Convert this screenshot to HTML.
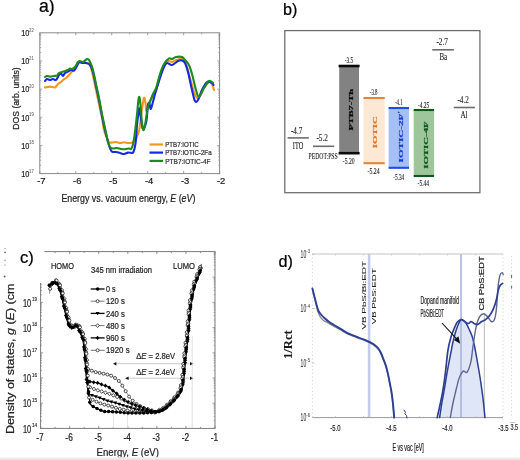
<!DOCTYPE html>
<html><head><meta charset="utf-8"><style>
html,body{margin:0;padding:0;background:#fff;}
body{width:520px;height:460px;overflow:hidden;}
svg{display:block;filter:blur(0.35px);}
.s{font-family:"Liberation Sans",Arial,sans-serif;}
.r{font-family:"Liberation Serif","Times New Roman",serif;}
</style></head><body>
<svg width="520" height="460" viewBox="0 0 520 460">
<rect x="0" y="0" width="520" height="460" fill="#fff"/>
<text class="s" x="38.9" y="12.3" font-size="17.6" fill="#000" stroke="#000" stroke-width="0.22">a)</text>
<rect x="39.8" y="32.8" width="179.8" height="140.8" fill="none" stroke="#8a8a8a" stroke-width="1"/>
<line x1="39.8" y1="173.6" x2="39.8" y2="171.1" stroke="#8a8a8a" stroke-width="0.8" />
<line x1="39.8" y1="32.8" x2="39.8" y2="35.3" stroke="#8a8a8a" stroke-width="0.8" />
<line x1="57.78" y1="173.6" x2="57.78" y2="172.1" stroke="#8a8a8a" stroke-width="0.8" />
<line x1="57.78" y1="32.8" x2="57.78" y2="34.3" stroke="#8a8a8a" stroke-width="0.8" />
<line x1="75.76" y1="173.6" x2="75.76" y2="171.1" stroke="#8a8a8a" stroke-width="0.8" />
<line x1="75.76" y1="32.8" x2="75.76" y2="35.3" stroke="#8a8a8a" stroke-width="0.8" />
<line x1="93.74" y1="173.6" x2="93.74" y2="172.1" stroke="#8a8a8a" stroke-width="0.8" />
<line x1="93.74" y1="32.8" x2="93.74" y2="34.3" stroke="#8a8a8a" stroke-width="0.8" />
<line x1="111.72" y1="173.6" x2="111.72" y2="171.1" stroke="#8a8a8a" stroke-width="0.8" />
<line x1="111.72" y1="32.8" x2="111.72" y2="35.3" stroke="#8a8a8a" stroke-width="0.8" />
<line x1="129.7" y1="173.6" x2="129.7" y2="172.1" stroke="#8a8a8a" stroke-width="0.8" />
<line x1="129.7" y1="32.8" x2="129.7" y2="34.3" stroke="#8a8a8a" stroke-width="0.8" />
<line x1="147.68" y1="173.6" x2="147.68" y2="171.1" stroke="#8a8a8a" stroke-width="0.8" />
<line x1="147.68" y1="32.8" x2="147.68" y2="35.3" stroke="#8a8a8a" stroke-width="0.8" />
<line x1="165.66" y1="173.6" x2="165.66" y2="172.1" stroke="#8a8a8a" stroke-width="0.8" />
<line x1="165.66" y1="32.8" x2="165.66" y2="34.3" stroke="#8a8a8a" stroke-width="0.8" />
<line x1="183.64" y1="173.6" x2="183.64" y2="171.1" stroke="#8a8a8a" stroke-width="0.8" />
<line x1="183.64" y1="32.8" x2="183.64" y2="35.3" stroke="#8a8a8a" stroke-width="0.8" />
<line x1="201.62" y1="173.6" x2="201.62" y2="172.1" stroke="#8a8a8a" stroke-width="0.8" />
<line x1="201.62" y1="32.8" x2="201.62" y2="34.3" stroke="#8a8a8a" stroke-width="0.8" />
<line x1="219.6" y1="173.6" x2="219.6" y2="171.1" stroke="#8a8a8a" stroke-width="0.8" />
<line x1="219.6" y1="32.8" x2="219.6" y2="35.3" stroke="#8a8a8a" stroke-width="0.8" />
<text class="s" x="41.3" y="184.2" font-size="9.4" fill="#222" stroke="#222" stroke-width="0.22" text-anchor="middle">-7</text>
<text class="s" x="77.25999999999999" y="184.2" font-size="9.4" fill="#222" stroke="#222" stroke-width="0.22" text-anchor="middle">-6</text>
<text class="s" x="113.22" y="184.2" font-size="9.4" fill="#222" stroke="#222" stroke-width="0.22" text-anchor="middle">-5</text>
<text class="s" x="149.18" y="184.2" font-size="9.4" fill="#222" stroke="#222" stroke-width="0.22" text-anchor="middle">-4</text>
<text class="s" x="185.14" y="184.2" font-size="9.4" fill="#222" stroke="#222" stroke-width="0.22" text-anchor="middle">-3</text>
<text class="s" x="221.10000000000002" y="184.2" font-size="9.4" fill="#222" stroke="#222" stroke-width="0.22" text-anchor="middle">-2</text>
<line x1="39.8" y1="173.6" x2="42.3" y2="173.6" stroke="#8a8a8a" stroke-width="0.7" />
<line x1="219.6" y1="173.6" x2="217.1" y2="173.6" stroke="#8a8a8a" stroke-width="0.7" />
<line x1="39.8" y1="165.12" x2="41.2" y2="165.12" stroke="#8a8a8a" stroke-width="0.7" />
<line x1="219.6" y1="165.12" x2="218.2" y2="165.12" stroke="#8a8a8a" stroke-width="0.7" />
<line x1="39.8" y1="160.16" x2="41.2" y2="160.16" stroke="#8a8a8a" stroke-width="0.7" />
<line x1="219.6" y1="160.16" x2="218.2" y2="160.16" stroke="#8a8a8a" stroke-width="0.7" />
<line x1="39.8" y1="156.65" x2="41.2" y2="156.65" stroke="#8a8a8a" stroke-width="0.7" />
<line x1="219.6" y1="156.65" x2="218.2" y2="156.65" stroke="#8a8a8a" stroke-width="0.7" />
<line x1="39.8" y1="153.92" x2="41.2" y2="153.92" stroke="#8a8a8a" stroke-width="0.7" />
<line x1="219.6" y1="153.92" x2="218.2" y2="153.92" stroke="#8a8a8a" stroke-width="0.7" />
<line x1="39.8" y1="151.69" x2="41.2" y2="151.69" stroke="#8a8a8a" stroke-width="0.7" />
<line x1="219.6" y1="151.69" x2="218.2" y2="151.69" stroke="#8a8a8a" stroke-width="0.7" />
<line x1="39.8" y1="149.8" x2="41.2" y2="149.8" stroke="#8a8a8a" stroke-width="0.7" />
<line x1="219.6" y1="149.8" x2="218.2" y2="149.8" stroke="#8a8a8a" stroke-width="0.7" />
<line x1="39.8" y1="148.17" x2="41.2" y2="148.17" stroke="#8a8a8a" stroke-width="0.7" />
<line x1="219.6" y1="148.17" x2="218.2" y2="148.17" stroke="#8a8a8a" stroke-width="0.7" />
<line x1="39.8" y1="146.73" x2="41.2" y2="146.73" stroke="#8a8a8a" stroke-width="0.7" />
<line x1="219.6" y1="146.73" x2="218.2" y2="146.73" stroke="#8a8a8a" stroke-width="0.7" />
<line x1="39.8" y1="145.44" x2="42.3" y2="145.44" stroke="#8a8a8a" stroke-width="0.7" />
<line x1="219.6" y1="145.44" x2="217.1" y2="145.44" stroke="#8a8a8a" stroke-width="0.7" />
<line x1="39.8" y1="136.96" x2="41.2" y2="136.96" stroke="#8a8a8a" stroke-width="0.7" />
<line x1="219.6" y1="136.96" x2="218.2" y2="136.96" stroke="#8a8a8a" stroke-width="0.7" />
<line x1="39.8" y1="132" x2="41.2" y2="132" stroke="#8a8a8a" stroke-width="0.7" />
<line x1="219.6" y1="132" x2="218.2" y2="132" stroke="#8a8a8a" stroke-width="0.7" />
<line x1="39.8" y1="128.49" x2="41.2" y2="128.49" stroke="#8a8a8a" stroke-width="0.7" />
<line x1="219.6" y1="128.49" x2="218.2" y2="128.49" stroke="#8a8a8a" stroke-width="0.7" />
<line x1="39.8" y1="125.76" x2="41.2" y2="125.76" stroke="#8a8a8a" stroke-width="0.7" />
<line x1="219.6" y1="125.76" x2="218.2" y2="125.76" stroke="#8a8a8a" stroke-width="0.7" />
<line x1="39.8" y1="123.53" x2="41.2" y2="123.53" stroke="#8a8a8a" stroke-width="0.7" />
<line x1="219.6" y1="123.53" x2="218.2" y2="123.53" stroke="#8a8a8a" stroke-width="0.7" />
<line x1="39.8" y1="121.64" x2="41.2" y2="121.64" stroke="#8a8a8a" stroke-width="0.7" />
<line x1="219.6" y1="121.64" x2="218.2" y2="121.64" stroke="#8a8a8a" stroke-width="0.7" />
<line x1="39.8" y1="120.01" x2="41.2" y2="120.01" stroke="#8a8a8a" stroke-width="0.7" />
<line x1="219.6" y1="120.01" x2="218.2" y2="120.01" stroke="#8a8a8a" stroke-width="0.7" />
<line x1="39.8" y1="118.57" x2="41.2" y2="118.57" stroke="#8a8a8a" stroke-width="0.7" />
<line x1="219.6" y1="118.57" x2="218.2" y2="118.57" stroke="#8a8a8a" stroke-width="0.7" />
<line x1="39.8" y1="117.28" x2="42.3" y2="117.28" stroke="#8a8a8a" stroke-width="0.7" />
<line x1="219.6" y1="117.28" x2="217.1" y2="117.28" stroke="#8a8a8a" stroke-width="0.7" />
<line x1="39.8" y1="108.8" x2="41.2" y2="108.8" stroke="#8a8a8a" stroke-width="0.7" />
<line x1="219.6" y1="108.8" x2="218.2" y2="108.8" stroke="#8a8a8a" stroke-width="0.7" />
<line x1="39.8" y1="103.84" x2="41.2" y2="103.84" stroke="#8a8a8a" stroke-width="0.7" />
<line x1="219.6" y1="103.84" x2="218.2" y2="103.84" stroke="#8a8a8a" stroke-width="0.7" />
<line x1="39.8" y1="100.33" x2="41.2" y2="100.33" stroke="#8a8a8a" stroke-width="0.7" />
<line x1="219.6" y1="100.33" x2="218.2" y2="100.33" stroke="#8a8a8a" stroke-width="0.7" />
<line x1="39.8" y1="97.6" x2="41.2" y2="97.6" stroke="#8a8a8a" stroke-width="0.7" />
<line x1="219.6" y1="97.6" x2="218.2" y2="97.6" stroke="#8a8a8a" stroke-width="0.7" />
<line x1="39.8" y1="95.37" x2="41.2" y2="95.37" stroke="#8a8a8a" stroke-width="0.7" />
<line x1="219.6" y1="95.37" x2="218.2" y2="95.37" stroke="#8a8a8a" stroke-width="0.7" />
<line x1="39.8" y1="93.48" x2="41.2" y2="93.48" stroke="#8a8a8a" stroke-width="0.7" />
<line x1="219.6" y1="93.48" x2="218.2" y2="93.48" stroke="#8a8a8a" stroke-width="0.7" />
<line x1="39.8" y1="91.85" x2="41.2" y2="91.85" stroke="#8a8a8a" stroke-width="0.7" />
<line x1="219.6" y1="91.85" x2="218.2" y2="91.85" stroke="#8a8a8a" stroke-width="0.7" />
<line x1="39.8" y1="90.41" x2="41.2" y2="90.41" stroke="#8a8a8a" stroke-width="0.7" />
<line x1="219.6" y1="90.41" x2="218.2" y2="90.41" stroke="#8a8a8a" stroke-width="0.7" />
<line x1="39.8" y1="89.12" x2="42.3" y2="89.12" stroke="#8a8a8a" stroke-width="0.7" />
<line x1="219.6" y1="89.12" x2="217.1" y2="89.12" stroke="#8a8a8a" stroke-width="0.7" />
<line x1="39.8" y1="80.64" x2="41.2" y2="80.64" stroke="#8a8a8a" stroke-width="0.7" />
<line x1="219.6" y1="80.64" x2="218.2" y2="80.64" stroke="#8a8a8a" stroke-width="0.7" />
<line x1="39.8" y1="75.68" x2="41.2" y2="75.68" stroke="#8a8a8a" stroke-width="0.7" />
<line x1="219.6" y1="75.68" x2="218.2" y2="75.68" stroke="#8a8a8a" stroke-width="0.7" />
<line x1="39.8" y1="72.17" x2="41.2" y2="72.17" stroke="#8a8a8a" stroke-width="0.7" />
<line x1="219.6" y1="72.17" x2="218.2" y2="72.17" stroke="#8a8a8a" stroke-width="0.7" />
<line x1="39.8" y1="69.44" x2="41.2" y2="69.44" stroke="#8a8a8a" stroke-width="0.7" />
<line x1="219.6" y1="69.44" x2="218.2" y2="69.44" stroke="#8a8a8a" stroke-width="0.7" />
<line x1="39.8" y1="67.21" x2="41.2" y2="67.21" stroke="#8a8a8a" stroke-width="0.7" />
<line x1="219.6" y1="67.21" x2="218.2" y2="67.21" stroke="#8a8a8a" stroke-width="0.7" />
<line x1="39.8" y1="65.32" x2="41.2" y2="65.32" stroke="#8a8a8a" stroke-width="0.7" />
<line x1="219.6" y1="65.32" x2="218.2" y2="65.32" stroke="#8a8a8a" stroke-width="0.7" />
<line x1="39.8" y1="63.69" x2="41.2" y2="63.69" stroke="#8a8a8a" stroke-width="0.7" />
<line x1="219.6" y1="63.69" x2="218.2" y2="63.69" stroke="#8a8a8a" stroke-width="0.7" />
<line x1="39.8" y1="62.25" x2="41.2" y2="62.25" stroke="#8a8a8a" stroke-width="0.7" />
<line x1="219.6" y1="62.25" x2="218.2" y2="62.25" stroke="#8a8a8a" stroke-width="0.7" />
<line x1="39.8" y1="60.96" x2="42.3" y2="60.96" stroke="#8a8a8a" stroke-width="0.7" />
<line x1="219.6" y1="60.96" x2="217.1" y2="60.96" stroke="#8a8a8a" stroke-width="0.7" />
<line x1="39.8" y1="52.48" x2="41.2" y2="52.48" stroke="#8a8a8a" stroke-width="0.7" />
<line x1="219.6" y1="52.48" x2="218.2" y2="52.48" stroke="#8a8a8a" stroke-width="0.7" />
<line x1="39.8" y1="47.52" x2="41.2" y2="47.52" stroke="#8a8a8a" stroke-width="0.7" />
<line x1="219.6" y1="47.52" x2="218.2" y2="47.52" stroke="#8a8a8a" stroke-width="0.7" />
<line x1="39.8" y1="44.01" x2="41.2" y2="44.01" stroke="#8a8a8a" stroke-width="0.7" />
<line x1="219.6" y1="44.01" x2="218.2" y2="44.01" stroke="#8a8a8a" stroke-width="0.7" />
<line x1="39.8" y1="41.28" x2="41.2" y2="41.28" stroke="#8a8a8a" stroke-width="0.7" />
<line x1="219.6" y1="41.28" x2="218.2" y2="41.28" stroke="#8a8a8a" stroke-width="0.7" />
<line x1="39.8" y1="39.05" x2="41.2" y2="39.05" stroke="#8a8a8a" stroke-width="0.7" />
<line x1="219.6" y1="39.05" x2="218.2" y2="39.05" stroke="#8a8a8a" stroke-width="0.7" />
<line x1="39.8" y1="37.16" x2="41.2" y2="37.16" stroke="#8a8a8a" stroke-width="0.7" />
<line x1="219.6" y1="37.16" x2="218.2" y2="37.16" stroke="#8a8a8a" stroke-width="0.7" />
<line x1="39.8" y1="35.53" x2="41.2" y2="35.53" stroke="#8a8a8a" stroke-width="0.7" />
<line x1="219.6" y1="35.53" x2="218.2" y2="35.53" stroke="#8a8a8a" stroke-width="0.7" />
<line x1="39.8" y1="34.09" x2="41.2" y2="34.09" stroke="#8a8a8a" stroke-width="0.7" />
<line x1="219.6" y1="34.09" x2="218.2" y2="34.09" stroke="#8a8a8a" stroke-width="0.7" />
<text class="s" x="21.2" y="176.9" font-size="9.0" fill="#222" stroke="#222" stroke-width="0.22" textLength="8.2" lengthAdjust="spacingAndGlyphs">10</text>
<text class="s" x="29.1" y="172.6" font-size="5.3" fill="#666" stroke="#666" stroke-width="0.08" textLength="4.6" lengthAdjust="spacingAndGlyphs">17</text>
<text class="s" x="21.2" y="148.74" font-size="9.0" fill="#222" stroke="#222" stroke-width="0.22" textLength="8.2" lengthAdjust="spacingAndGlyphs">10</text>
<text class="s" x="29.1" y="144.44" font-size="5.3" fill="#666" stroke="#666" stroke-width="0.08" textLength="4.6" lengthAdjust="spacingAndGlyphs">18</text>
<text class="s" x="21.2" y="120.58" font-size="9.0" fill="#222" stroke="#222" stroke-width="0.22" textLength="8.2" lengthAdjust="spacingAndGlyphs">10</text>
<text class="s" x="29.1" y="116.28" font-size="5.3" fill="#666" stroke="#666" stroke-width="0.08" textLength="4.6" lengthAdjust="spacingAndGlyphs">19</text>
<text class="s" x="21.2" y="92.41999999999999" font-size="9.0" fill="#222" stroke="#222" stroke-width="0.22" textLength="8.2" lengthAdjust="spacingAndGlyphs">10</text>
<text class="s" x="29.1" y="88.11999999999999" font-size="5.3" fill="#666" stroke="#666" stroke-width="0.08" textLength="4.6" lengthAdjust="spacingAndGlyphs">20</text>
<text class="s" x="21.2" y="64.25999999999999" font-size="9.0" fill="#222" stroke="#222" stroke-width="0.22" textLength="8.2" lengthAdjust="spacingAndGlyphs">10</text>
<text class="s" x="29.1" y="59.959999999999994" font-size="5.3" fill="#666" stroke="#666" stroke-width="0.08" textLength="4.6" lengthAdjust="spacingAndGlyphs">21</text>
<text class="s" x="21.2" y="36.09999999999998" font-size="9.0" fill="#222" stroke="#222" stroke-width="0.22" textLength="8.2" lengthAdjust="spacingAndGlyphs">10</text>
<text class="s" x="29.1" y="31.799999999999983" font-size="5.3" fill="#666" stroke="#666" stroke-width="0.08" textLength="4.6" lengthAdjust="spacingAndGlyphs">22</text>
<text class="s" x="19.2" y="98.5" font-size="8.9" fill="#222" stroke="#222" stroke-width="0.22" text-anchor="middle" textLength="62.3" lengthAdjust="spacingAndGlyphs" transform="rotate(-90 19.2 98.5)">DOS (arb. units)</text>
<text class="s" x="61.4" y="202.4" font-size="10.2" fill="#222" stroke="#222" stroke-width="0.22" textLength="134" lengthAdjust="spacingAndGlyphs">Energy vs. vacuum energy, <tspan font-style="italic">E</tspan> (<tspan font-style="italic">eV</tspan>)</text>
<path d="M45.0,87.4 C45.8,87.3 48.3,86.6 50.0,86.6 C51.7,86.6 53.7,87.8 55.0,87.4 C56.3,87.0 57.0,84.9 58.0,84.0 C59.0,83.1 60.2,82.7 61.0,82.0 C61.8,81.3 62.2,80.7 63.0,80.0 C63.8,79.3 64.8,79.0 66.0,78.0 C67.2,77.0 68.8,75.3 70.0,74.0 C71.2,72.7 72.0,71.3 73.0,70.0 C74.0,68.7 75.0,67.3 76.0,66.0 C77.0,64.7 77.8,62.6 79.0,62.0 C80.2,61.4 81.7,62.2 83.0,62.4 C84.3,62.6 85.8,63.1 87.0,63.4 C88.2,63.7 89.0,62.3 90.0,64.4 C91.0,66.5 92.0,71.7 93.0,76.0 C94.0,80.3 95.0,85.3 96.0,90.0 C97.0,94.7 98.0,99.3 99.0,104.0 C100.0,108.7 101.2,113.7 102.0,118.0 C102.8,122.3 103.2,126.7 104.0,130.0 C104.8,133.3 106.2,136.0 107.0,138.0 C107.8,140.0 108.2,141.2 109.0,142.0 C109.8,142.8 110.8,142.6 112.0,142.6 C113.2,142.6 114.7,141.9 116.0,142.0 C117.3,142.1 118.7,142.9 120.0,143.0 C121.3,143.1 122.7,142.3 124.0,142.3 C125.3,142.3 126.7,142.9 128.0,143.0 C129.3,143.1 130.8,143.1 131.8,142.8 C132.8,142.5 133.2,141.8 134.0,141.0 C134.8,140.2 135.5,140.0 136.4,138.0 C137.3,136.0 138.5,133.5 139.4,129.0 C140.3,124.5 140.9,116.2 141.7,111.0 C142.5,105.8 143.4,99.3 144.0,98.0 C144.6,96.7 145.1,100.7 145.5,103.0 C145.9,105.3 145.9,111.1 146.3,111.6 C146.7,112.1 147.3,107.4 147.8,106.0 C148.3,104.6 148.4,104.7 149.3,103.0 C150.2,101.3 151.9,97.6 153.0,95.6 C154.1,93.6 154.8,94.3 156.0,91.0 C157.2,87.7 158.7,80.2 160.0,76.0 C161.3,71.8 162.7,68.5 164.0,66.0 C165.3,63.5 166.7,61.7 168.0,61.0 C169.3,60.3 170.7,62.2 172.0,62.0 C173.3,61.8 174.3,60.5 176.0,60.0 C177.7,59.5 180.3,58.3 182.0,59.0 C183.7,59.7 184.7,60.8 186.0,64.0 C187.3,67.2 188.7,73.3 190.0,78.0 C191.3,82.7 192.8,88.7 194.0,92.0 C195.2,95.3 196.0,97.3 197.0,98.0 C198.0,98.7 198.8,97.7 200.0,96.0 C201.2,94.3 202.5,90.3 204.0,88.0 C205.5,85.7 207.7,82.7 209.0,82.0 C210.3,81.3 211.2,82.7 212.0,84.0 C212.8,85.3 213.7,89.0 214.0,90.0" fill="none" stroke="#f5961e" stroke-width="2.1" stroke-linejoin="round" stroke-linecap="round" />
<path d="M45.0,81.0 C45.3,80.7 46.2,79.2 47.0,79.0 C47.8,78.8 49.0,80.0 50.0,80.0 C51.0,80.0 52.0,79.0 53.0,79.0 C54.0,79.0 55.0,80.7 56.0,80.0 C57.0,79.3 58.2,76.1 59.0,75.0 C59.8,73.9 60.3,73.4 61.0,73.6 C61.7,73.8 62.3,76.1 63.0,76.0 C63.7,75.9 64.2,73.7 65.0,73.0 C65.8,72.3 67.0,72.1 68.0,71.6 C69.0,71.1 70.0,70.2 71.0,70.0 C72.0,69.8 73.0,71.3 74.0,70.6 C75.0,69.9 76.2,67.4 77.0,66.0 C77.8,64.6 78.2,62.9 79.0,62.4 C79.8,61.9 80.8,62.9 82.0,63.0 C83.2,63.1 84.7,62.7 86.0,63.0 C87.3,63.3 88.8,63.5 90.0,65.0 C91.2,66.5 92.0,68.5 93.0,72.0 C94.0,75.5 95.0,81.3 96.0,86.0 C97.0,90.7 98.0,95.0 99.0,100.0 C100.0,105.0 101.0,111.0 102.0,116.0 C103.0,121.0 104.0,125.7 105.0,130.0 C106.0,134.3 107.2,139.0 108.0,142.0 C108.8,145.0 109.3,146.4 110.0,148.0 C110.7,149.6 111.0,150.9 112.0,151.6 C113.0,152.3 114.7,151.8 116.0,152.0 C117.3,152.2 118.7,152.7 120.0,153.0 C121.3,153.3 122.7,154.1 124.0,154.0 C125.3,153.9 126.8,152.8 128.0,152.6 C129.2,152.4 130.1,152.9 131.0,152.8 C131.9,152.7 132.6,153.7 133.4,152.0 C134.2,150.3 135.0,147.3 135.6,142.8 C136.2,138.3 136.5,130.3 137.0,125.0 C137.5,119.7 138.3,113.7 138.7,111.0 C139.1,108.3 138.9,107.0 139.4,109.0 C139.9,111.0 141.1,119.7 141.7,123.0 C142.3,126.3 142.4,129.2 143.2,129.0 C144.0,128.8 145.5,125.3 146.3,121.5 C147.1,117.7 147.3,109.1 147.8,106.0 C148.3,102.9 148.8,102.5 149.3,103.0 C149.8,103.5 150.2,109.2 150.8,109.0 C151.4,108.8 152.2,104.4 153.0,101.7 C153.8,99.0 154.2,96.5 155.4,92.6 C156.6,88.6 158.6,82.3 160.0,78.0 C161.4,73.7 162.8,69.5 164.0,67.0 C165.2,64.5 165.7,63.3 167.0,63.0 C168.3,62.7 170.2,65.3 172.0,65.0 C173.8,64.7 176.3,61.8 178.0,61.0 C179.7,60.2 180.8,60.1 182.0,60.4 C183.2,60.7 184.0,61.1 185.0,63.0 C186.0,64.9 186.8,67.5 188.0,72.0 C189.2,76.5 190.8,85.2 192.0,90.0 C193.2,94.8 194.0,99.3 195.0,101.0 C196.0,102.7 196.8,101.8 198.0,100.0 C199.2,98.2 200.5,93.0 202.0,90.0 C203.5,87.0 205.3,83.2 207.0,82.0 C208.7,80.8 210.9,82.5 212.0,83.0 C213.1,83.5 213.2,84.7 213.5,85.0" fill="none" stroke="#1428e6" stroke-width="2.1" stroke-linejoin="round" stroke-linecap="round" />
<path d="M45.0,77.0 C45.3,76.8 46.2,76.1 47.0,76.0 C47.8,75.9 48.8,76.6 50.0,76.6 C51.2,76.6 52.8,76.2 54.0,76.0 C55.2,75.8 56.2,76.1 57.0,75.6 C57.8,75.1 58.2,73.6 59.0,73.0 C59.8,72.4 61.0,72.3 62.0,72.0 C63.0,71.7 64.0,71.3 65.0,71.0 C66.0,70.7 67.2,70.4 68.0,70.0 C68.8,69.6 69.3,68.8 70.0,68.6 C70.7,68.4 71.2,69.3 72.0,69.0 C72.8,68.7 74.0,68.2 75.0,67.0 C76.0,65.8 77.2,63.0 78.0,62.0 C78.8,61.0 79.2,61.0 80.0,61.0 C80.8,61.0 81.8,62.3 83.0,62.0 C84.2,61.7 86.0,59.3 87.0,59.0 C88.0,58.7 88.3,59.2 89.0,60.0 C89.7,60.8 90.3,62.3 91.0,64.0 C91.7,65.7 92.2,66.7 93.0,70.0 C93.8,73.3 95.0,79.3 96.0,84.0 C97.0,88.7 98.0,93.0 99.0,98.0 C100.0,103.0 101.0,109.0 102.0,114.0 C103.0,119.0 104.0,123.3 105.0,128.0 C106.0,132.7 107.2,138.8 108.0,142.0 C108.8,145.2 109.2,145.9 110.0,147.0 C110.8,148.1 111.8,148.3 113.0,148.5 C114.2,148.7 115.7,147.9 117.0,148.0 C118.3,148.1 119.7,148.8 121.0,149.0 C122.3,149.2 123.7,149.4 125.0,149.3 C126.3,149.2 128.0,148.6 129.0,148.5 C130.0,148.4 130.3,149.8 131.0,148.9 C131.7,148.0 132.5,147.6 133.4,142.8 C134.3,138.0 135.5,127.5 136.4,120.0 C137.3,112.5 138.1,101.0 138.7,98.0 C139.3,95.0 139.7,98.0 140.2,101.7 C140.7,105.4 141.2,115.3 141.7,120.0 C142.2,124.7 142.7,128.9 143.2,129.9 C143.7,130.9 144.0,129.7 144.8,126.0 C145.6,122.3 146.9,111.8 147.8,107.8 C148.7,103.8 149.1,104.0 150.0,101.7 C150.9,99.4 152.0,96.3 153.0,94.0 C154.0,91.7 154.8,91.3 156.0,88.0 C157.2,84.7 158.7,78.0 160.0,74.0 C161.3,70.0 162.5,66.6 164.0,64.0 C165.5,61.4 167.7,59.2 169.0,58.4 C170.3,57.6 170.8,59.2 172.0,59.0 C173.2,58.8 174.3,57.3 176.0,57.0 C177.7,56.7 180.5,56.5 182.0,57.0 C183.5,57.5 183.8,58.7 185.0,60.0 C186.2,61.3 187.8,62.7 189.0,65.0 C190.2,67.3 190.8,69.8 192.0,74.0 C193.2,78.2 194.8,86.2 196.0,90.0 C197.2,93.8 197.7,97.3 199.0,97.0 C200.3,96.7 202.3,90.7 204.0,88.0 C205.7,85.3 207.5,81.8 209.0,81.0 C210.5,80.2 212.3,82.7 213.0,83.0" fill="none" stroke="#1e8a1e" stroke-width="2.1" stroke-linejoin="round" stroke-linecap="round" />
<line x1="149.5" y1="144.5" x2="163" y2="144.5" stroke="#f5961e" stroke-width="2.2" />
<line x1="149.5" y1="152.6" x2="163" y2="152.6" stroke="#1428e6" stroke-width="2.2" />
<line x1="149.5" y1="160.9" x2="163" y2="160.9" stroke="#1e8a1e" stroke-width="2.2" />
<text class="s" x="165.2" y="147.2" font-size="7.2" fill="#333" stroke="#333" stroke-width="0.22" textLength="33.5" lengthAdjust="spacingAndGlyphs">PTB7:IOTIC</text>
<text class="s" x="165.2" y="155.3" font-size="7.2" fill="#333" stroke="#333" stroke-width="0.22" textLength="46.4" lengthAdjust="spacingAndGlyphs">PTB7:IOTIC-2Fa</text>
<text class="s" x="165.2" y="163.6" font-size="7.2" fill="#333" stroke="#333" stroke-width="0.22" textLength="45.4" lengthAdjust="spacingAndGlyphs">PTB7:IOTIC-4F</text>
<text class="s" x="283.0" y="15.3" font-size="16.2" fill="#000" stroke="#000" stroke-width="0.22">b)</text>
<rect x="284.8" y="30.6" width="195.1" height="162.1" fill="none" stroke="#6a6a6a" stroke-width="1.25"/>
<line x1="287.6" y1="137.9" x2="308.8" y2="137.9" stroke="#6c6c6c" stroke-width="1.6" />
<text class="r" x="291.0" y="134.3" font-size="9.5" fill="#222" stroke="#222" stroke-width="0.12" textLength="11.2" lengthAdjust="spacingAndGlyphs">-4.7</text>
<text class="r" x="292.8" y="149.0" font-size="9.5" fill="#222" stroke="#222" stroke-width="0.12" textLength="10.4" lengthAdjust="spacingAndGlyphs">ITO</text>
<line x1="313" y1="146.3" x2="334.2" y2="146.3" stroke="#6c6c6c" stroke-width="1.6" />
<text class="r" x="316.4" y="141.0" font-size="10.2" fill="#222" stroke="#222" stroke-width="0.12" textLength="11.6" lengthAdjust="spacingAndGlyphs">-5.2</text>
<text class="r" x="308.6" y="159.0" font-size="8.6" fill="#222" stroke="#222" stroke-width="0.12" textLength="29.0" lengthAdjust="spacingAndGlyphs">PEDOT:PSS</text>
<rect x="339.2" y="66" width="19.8" height="87.2" fill="#828282"/>
<line x1="338.6" y1="66" x2="359.6" y2="66" stroke="#0a0a0a" stroke-width="2.6" />
<line x1="338.6" y1="153.2" x2="359.6" y2="153.2" stroke="#0a0a0a" stroke-width="2.6" />
<text class="r" x="344.8" y="63.1" font-size="7.8" fill="#222" stroke="#222" stroke-width="0.12" textLength="8.4" lengthAdjust="spacingAndGlyphs">-3.5</text>
<text class="r" x="342.8" y="164.0" font-size="8.6" fill="#222" stroke="#222" stroke-width="0.12" textLength="11.8" lengthAdjust="spacingAndGlyphs">-5.20</text>
<text class="r" x="353.2" y="130.6" font-size="6.8" fill="#0a0a0a" stroke="#0a0a0a" stroke-width="0.22" textLength="41.6" lengthAdjust="spacingAndGlyphs" font-weight="bold" transform="rotate(-90 353.2 130.6)">PTB7-Th</text>
<rect x="363.5" y="98" width="21.2" height="65.2" fill="#fde8d6"/>
<line x1="363.5" y1="98" x2="384.7" y2="98" stroke="#e8833c" stroke-width="2.1" />
<line x1="363.5" y1="163.2" x2="384.7" y2="163.2" stroke="#e8833c" stroke-width="2.1" />
<text class="r" x="369.8" y="94.9" font-size="7.8" fill="#222" stroke="#222" stroke-width="0.12" textLength="7.6" lengthAdjust="spacingAndGlyphs">-3.8</text>
<text class="r" x="367.6" y="173.6" font-size="8.6" fill="#222" stroke="#222" stroke-width="0.12" textLength="12.0" lengthAdjust="spacingAndGlyphs">-5.24</text>
<text class="r" x="377.2" y="148.2" font-size="6.8" fill="#e27a2c" stroke="#e27a2c" stroke-width="0.22" textLength="32" lengthAdjust="spacingAndGlyphs" font-weight="bold" transform="rotate(-90 377.2 148.2)">IOTIC</text>
<rect x="388.6" y="108" width="20.4" height="59.8" fill="#a6c0f6"/>
<line x1="388.6" y1="108" x2="409" y2="108" stroke="#1d4fdc" stroke-width="2.1" />
<line x1="388.6" y1="167.8" x2="409" y2="167.8" stroke="#1d4fdc" stroke-width="2.1" />
<text class="r" x="395.0" y="104.9" font-size="7.8" fill="#222" stroke="#222" stroke-width="0.12" textLength="7.6" lengthAdjust="spacingAndGlyphs">-4.1</text>
<text class="r" x="393.2" y="179.9" font-size="8.6" fill="#222" stroke="#222" stroke-width="0.12" textLength="11.0" lengthAdjust="spacingAndGlyphs">-5.34</text>
<text class="r" x="402.8" y="162.4" font-size="6.8" fill="#1a3fd2" stroke="#1a3fd2" stroke-width="0.22" textLength="51.4" lengthAdjust="spacingAndGlyphs" font-weight="bold" transform="rotate(-90 402.8 162.4)">IOTIC-2F<tspan font-size="6" dy="-0.5">'</tspan></text>
<rect x="413.7" y="110" width="20.4" height="66" fill="#9ec59c"/>
<line x1="413.7" y1="110" x2="434.1" y2="110" stroke="#12561c" stroke-width="2.1" />
<line x1="413.7" y1="176" x2="434.1" y2="176" stroke="#12561c" stroke-width="2.1" />
<text class="r" x="418.0" y="108.0" font-size="8.0" fill="#222" stroke="#222" stroke-width="0.12" textLength="11.2" lengthAdjust="spacingAndGlyphs">-4.25</text>
<text class="r" x="417.6" y="185.7" font-size="8.6" fill="#222" stroke="#222" stroke-width="0.12" textLength="11.4" lengthAdjust="spacingAndGlyphs">-5.44</text>
<text class="r" x="427.6" y="168.8" font-size="6.8" fill="#0e5a1a" stroke="#0e5a1a" stroke-width="0.22" textLength="47.5" lengthAdjust="spacingAndGlyphs" font-weight="bold" transform="rotate(-90 427.6 168.8)">IOTIC-4F</text>
<line x1="432.2" y1="49.8" x2="453.9" y2="49.8" stroke="#6c6c6c" stroke-width="1.6" />
<text class="r" x="436.4" y="45.2" font-size="10.2" fill="#222" stroke="#222" stroke-width="0.12" textLength="11.4" lengthAdjust="spacingAndGlyphs">-2.7</text>
<text class="r" x="439.4" y="60.0" font-size="9.4" fill="#222" stroke="#222" stroke-width="0.12" textLength="7.8" lengthAdjust="spacingAndGlyphs">Ba</text>
<line x1="453.8" y1="107.5" x2="474.9" y2="107.5" stroke="#6c6c6c" stroke-width="1.6" />
<text class="r" x="457.4" y="102.9" font-size="10.2" fill="#222" stroke="#222" stroke-width="0.12" textLength="11.4" lengthAdjust="spacingAndGlyphs">-4.2</text>
<text class="r" x="460.4" y="118.2" font-size="9.4" fill="#222" stroke="#222" stroke-width="0.12" textLength="7.2" lengthAdjust="spacingAndGlyphs">Al</text>
<text class="s" x="20.0" y="263.2" font-size="16.5" fill="#000" stroke="#000" stroke-width="0.22">c)</text>
<rect x="40.6" y="251.6" width="174.4" height="176.79999999999998" fill="none" stroke="#7a7a7a" stroke-width="1"/>
<line x1="40.6" y1="428.4" x2="40.6" y2="425.9" stroke="#7a7a7a" stroke-width="0.8" />
<line x1="40.6" y1="251.6" x2="40.6" y2="254.1" stroke="#7a7a7a" stroke-width="0.8" />
<line x1="55.14" y1="428.4" x2="55.14" y2="426.9" stroke="#7a7a7a" stroke-width="0.8" />
<line x1="55.14" y1="251.6" x2="55.14" y2="253.1" stroke="#7a7a7a" stroke-width="0.8" />
<line x1="69.67" y1="428.4" x2="69.67" y2="425.9" stroke="#7a7a7a" stroke-width="0.8" />
<line x1="69.67" y1="251.6" x2="69.67" y2="254.1" stroke="#7a7a7a" stroke-width="0.8" />
<line x1="84.21" y1="428.4" x2="84.21" y2="426.9" stroke="#7a7a7a" stroke-width="0.8" />
<line x1="84.21" y1="251.6" x2="84.21" y2="253.1" stroke="#7a7a7a" stroke-width="0.8" />
<line x1="98.74" y1="428.4" x2="98.74" y2="425.9" stroke="#7a7a7a" stroke-width="0.8" />
<line x1="98.74" y1="251.6" x2="98.74" y2="254.1" stroke="#7a7a7a" stroke-width="0.8" />
<line x1="113.28" y1="428.4" x2="113.28" y2="426.9" stroke="#7a7a7a" stroke-width="0.8" />
<line x1="113.28" y1="251.6" x2="113.28" y2="253.1" stroke="#7a7a7a" stroke-width="0.8" />
<line x1="127.81" y1="428.4" x2="127.81" y2="425.9" stroke="#7a7a7a" stroke-width="0.8" />
<line x1="127.81" y1="251.6" x2="127.81" y2="254.1" stroke="#7a7a7a" stroke-width="0.8" />
<line x1="142.34" y1="428.4" x2="142.34" y2="426.9" stroke="#7a7a7a" stroke-width="0.8" />
<line x1="142.34" y1="251.6" x2="142.34" y2="253.1" stroke="#7a7a7a" stroke-width="0.8" />
<line x1="156.88" y1="428.4" x2="156.88" y2="425.9" stroke="#7a7a7a" stroke-width="0.8" />
<line x1="156.88" y1="251.6" x2="156.88" y2="254.1" stroke="#7a7a7a" stroke-width="0.8" />
<line x1="171.41" y1="428.4" x2="171.41" y2="426.9" stroke="#7a7a7a" stroke-width="0.8" />
<line x1="171.41" y1="251.6" x2="171.41" y2="253.1" stroke="#7a7a7a" stroke-width="0.8" />
<line x1="185.95" y1="428.4" x2="185.95" y2="425.9" stroke="#7a7a7a" stroke-width="0.8" />
<line x1="185.95" y1="251.6" x2="185.95" y2="254.1" stroke="#7a7a7a" stroke-width="0.8" />
<line x1="200.48" y1="428.4" x2="200.48" y2="426.9" stroke="#7a7a7a" stroke-width="0.8" />
<line x1="200.48" y1="251.6" x2="200.48" y2="253.1" stroke="#7a7a7a" stroke-width="0.8" />
<line x1="215.02" y1="428.4" x2="215.02" y2="425.9" stroke="#7a7a7a" stroke-width="0.8" />
<line x1="215.02" y1="251.6" x2="215.02" y2="254.1" stroke="#7a7a7a" stroke-width="0.8" />
<text class="s" x="40.0" y="440.8" font-size="10.0" fill="#222" stroke="#222" stroke-width="0.22" text-anchor="middle" textLength="7.4" lengthAdjust="spacingAndGlyphs">-7</text>
<text class="s" x="69.07000000000001" y="440.8" font-size="10.0" fill="#222" stroke="#222" stroke-width="0.22" text-anchor="middle" textLength="7.4" lengthAdjust="spacingAndGlyphs">-6</text>
<text class="s" x="98.14000000000001" y="440.8" font-size="10.0" fill="#222" stroke="#222" stroke-width="0.22" text-anchor="middle" textLength="7.4" lengthAdjust="spacingAndGlyphs">-5</text>
<text class="s" x="127.21000000000001" y="440.8" font-size="10.0" fill="#222" stroke="#222" stroke-width="0.22" text-anchor="middle" textLength="7.4" lengthAdjust="spacingAndGlyphs">-4</text>
<text class="s" x="156.28" y="440.8" font-size="10.0" fill="#222" stroke="#222" stroke-width="0.22" text-anchor="middle" textLength="7.4" lengthAdjust="spacingAndGlyphs">-3</text>
<text class="s" x="185.35" y="440.8" font-size="10.0" fill="#222" stroke="#222" stroke-width="0.22" text-anchor="middle" textLength="7.4" lengthAdjust="spacingAndGlyphs">-2</text>
<text class="s" x="214.42000000000002" y="440.8" font-size="10.0" fill="#222" stroke="#222" stroke-width="0.22" text-anchor="middle" textLength="7.4" lengthAdjust="spacingAndGlyphs">-1</text>
<line x1="40.6" y1="428.4" x2="43.1" y2="428.4" stroke="#7a7a7a" stroke-width="0.7" />
<line x1="215" y1="428.4" x2="212.5" y2="428.4" stroke="#7a7a7a" stroke-width="0.7" />
<line x1="40.6" y1="420.81" x2="41.9" y2="420.81" stroke="#7a7a7a" stroke-width="0.7" />
<line x1="215" y1="420.81" x2="213.7" y2="420.81" stroke="#7a7a7a" stroke-width="0.7" />
<line x1="40.6" y1="416.38" x2="41.9" y2="416.38" stroke="#7a7a7a" stroke-width="0.7" />
<line x1="215" y1="416.38" x2="213.7" y2="416.38" stroke="#7a7a7a" stroke-width="0.7" />
<line x1="40.6" y1="413.23" x2="41.9" y2="413.23" stroke="#7a7a7a" stroke-width="0.7" />
<line x1="215" y1="413.23" x2="213.7" y2="413.23" stroke="#7a7a7a" stroke-width="0.7" />
<line x1="40.6" y1="410.79" x2="41.9" y2="410.79" stroke="#7a7a7a" stroke-width="0.7" />
<line x1="215" y1="410.79" x2="213.7" y2="410.79" stroke="#7a7a7a" stroke-width="0.7" />
<line x1="40.6" y1="408.79" x2="41.9" y2="408.79" stroke="#7a7a7a" stroke-width="0.7" />
<line x1="215" y1="408.79" x2="213.7" y2="408.79" stroke="#7a7a7a" stroke-width="0.7" />
<line x1="40.6" y1="407.1" x2="41.9" y2="407.1" stroke="#7a7a7a" stroke-width="0.7" />
<line x1="215" y1="407.1" x2="213.7" y2="407.1" stroke="#7a7a7a" stroke-width="0.7" />
<line x1="40.6" y1="405.64" x2="41.9" y2="405.64" stroke="#7a7a7a" stroke-width="0.7" />
<line x1="215" y1="405.64" x2="213.7" y2="405.64" stroke="#7a7a7a" stroke-width="0.7" />
<line x1="40.6" y1="404.35" x2="41.9" y2="404.35" stroke="#7a7a7a" stroke-width="0.7" />
<line x1="215" y1="404.35" x2="213.7" y2="404.35" stroke="#7a7a7a" stroke-width="0.7" />
<line x1="40.6" y1="403.2" x2="43.1" y2="403.2" stroke="#7a7a7a" stroke-width="0.7" />
<line x1="215" y1="403.2" x2="212.5" y2="403.2" stroke="#7a7a7a" stroke-width="0.7" />
<line x1="40.6" y1="395.61" x2="41.9" y2="395.61" stroke="#7a7a7a" stroke-width="0.7" />
<line x1="215" y1="395.61" x2="213.7" y2="395.61" stroke="#7a7a7a" stroke-width="0.7" />
<line x1="40.6" y1="391.18" x2="41.9" y2="391.18" stroke="#7a7a7a" stroke-width="0.7" />
<line x1="215" y1="391.18" x2="213.7" y2="391.18" stroke="#7a7a7a" stroke-width="0.7" />
<line x1="40.6" y1="388.03" x2="41.9" y2="388.03" stroke="#7a7a7a" stroke-width="0.7" />
<line x1="215" y1="388.03" x2="213.7" y2="388.03" stroke="#7a7a7a" stroke-width="0.7" />
<line x1="40.6" y1="385.59" x2="41.9" y2="385.59" stroke="#7a7a7a" stroke-width="0.7" />
<line x1="215" y1="385.59" x2="213.7" y2="385.59" stroke="#7a7a7a" stroke-width="0.7" />
<line x1="40.6" y1="383.59" x2="41.9" y2="383.59" stroke="#7a7a7a" stroke-width="0.7" />
<line x1="215" y1="383.59" x2="213.7" y2="383.59" stroke="#7a7a7a" stroke-width="0.7" />
<line x1="40.6" y1="381.9" x2="41.9" y2="381.9" stroke="#7a7a7a" stroke-width="0.7" />
<line x1="215" y1="381.9" x2="213.7" y2="381.9" stroke="#7a7a7a" stroke-width="0.7" />
<line x1="40.6" y1="380.44" x2="41.9" y2="380.44" stroke="#7a7a7a" stroke-width="0.7" />
<line x1="215" y1="380.44" x2="213.7" y2="380.44" stroke="#7a7a7a" stroke-width="0.7" />
<line x1="40.6" y1="379.15" x2="41.9" y2="379.15" stroke="#7a7a7a" stroke-width="0.7" />
<line x1="215" y1="379.15" x2="213.7" y2="379.15" stroke="#7a7a7a" stroke-width="0.7" />
<line x1="40.6" y1="378" x2="43.1" y2="378" stroke="#7a7a7a" stroke-width="0.7" />
<line x1="215" y1="378" x2="212.5" y2="378" stroke="#7a7a7a" stroke-width="0.7" />
<line x1="40.6" y1="370.41" x2="41.9" y2="370.41" stroke="#7a7a7a" stroke-width="0.7" />
<line x1="215" y1="370.41" x2="213.7" y2="370.41" stroke="#7a7a7a" stroke-width="0.7" />
<line x1="40.6" y1="365.98" x2="41.9" y2="365.98" stroke="#7a7a7a" stroke-width="0.7" />
<line x1="215" y1="365.98" x2="213.7" y2="365.98" stroke="#7a7a7a" stroke-width="0.7" />
<line x1="40.6" y1="362.83" x2="41.9" y2="362.83" stroke="#7a7a7a" stroke-width="0.7" />
<line x1="215" y1="362.83" x2="213.7" y2="362.83" stroke="#7a7a7a" stroke-width="0.7" />
<line x1="40.6" y1="360.39" x2="41.9" y2="360.39" stroke="#7a7a7a" stroke-width="0.7" />
<line x1="215" y1="360.39" x2="213.7" y2="360.39" stroke="#7a7a7a" stroke-width="0.7" />
<line x1="40.6" y1="358.39" x2="41.9" y2="358.39" stroke="#7a7a7a" stroke-width="0.7" />
<line x1="215" y1="358.39" x2="213.7" y2="358.39" stroke="#7a7a7a" stroke-width="0.7" />
<line x1="40.6" y1="356.7" x2="41.9" y2="356.7" stroke="#7a7a7a" stroke-width="0.7" />
<line x1="215" y1="356.7" x2="213.7" y2="356.7" stroke="#7a7a7a" stroke-width="0.7" />
<line x1="40.6" y1="355.24" x2="41.9" y2="355.24" stroke="#7a7a7a" stroke-width="0.7" />
<line x1="215" y1="355.24" x2="213.7" y2="355.24" stroke="#7a7a7a" stroke-width="0.7" />
<line x1="40.6" y1="353.95" x2="41.9" y2="353.95" stroke="#7a7a7a" stroke-width="0.7" />
<line x1="215" y1="353.95" x2="213.7" y2="353.95" stroke="#7a7a7a" stroke-width="0.7" />
<line x1="40.6" y1="352.8" x2="43.1" y2="352.8" stroke="#7a7a7a" stroke-width="0.7" />
<line x1="215" y1="352.8" x2="212.5" y2="352.8" stroke="#7a7a7a" stroke-width="0.7" />
<line x1="40.6" y1="345.21" x2="41.9" y2="345.21" stroke="#7a7a7a" stroke-width="0.7" />
<line x1="215" y1="345.21" x2="213.7" y2="345.21" stroke="#7a7a7a" stroke-width="0.7" />
<line x1="40.6" y1="340.78" x2="41.9" y2="340.78" stroke="#7a7a7a" stroke-width="0.7" />
<line x1="215" y1="340.78" x2="213.7" y2="340.78" stroke="#7a7a7a" stroke-width="0.7" />
<line x1="40.6" y1="337.63" x2="41.9" y2="337.63" stroke="#7a7a7a" stroke-width="0.7" />
<line x1="215" y1="337.63" x2="213.7" y2="337.63" stroke="#7a7a7a" stroke-width="0.7" />
<line x1="40.6" y1="335.19" x2="41.9" y2="335.19" stroke="#7a7a7a" stroke-width="0.7" />
<line x1="215" y1="335.19" x2="213.7" y2="335.19" stroke="#7a7a7a" stroke-width="0.7" />
<line x1="40.6" y1="333.19" x2="41.9" y2="333.19" stroke="#7a7a7a" stroke-width="0.7" />
<line x1="215" y1="333.19" x2="213.7" y2="333.19" stroke="#7a7a7a" stroke-width="0.7" />
<line x1="40.6" y1="331.5" x2="41.9" y2="331.5" stroke="#7a7a7a" stroke-width="0.7" />
<line x1="215" y1="331.5" x2="213.7" y2="331.5" stroke="#7a7a7a" stroke-width="0.7" />
<line x1="40.6" y1="330.04" x2="41.9" y2="330.04" stroke="#7a7a7a" stroke-width="0.7" />
<line x1="215" y1="330.04" x2="213.7" y2="330.04" stroke="#7a7a7a" stroke-width="0.7" />
<line x1="40.6" y1="328.75" x2="41.9" y2="328.75" stroke="#7a7a7a" stroke-width="0.7" />
<line x1="215" y1="328.75" x2="213.7" y2="328.75" stroke="#7a7a7a" stroke-width="0.7" />
<line x1="40.6" y1="327.6" x2="43.1" y2="327.6" stroke="#7a7a7a" stroke-width="0.7" />
<line x1="215" y1="327.6" x2="212.5" y2="327.6" stroke="#7a7a7a" stroke-width="0.7" />
<line x1="40.6" y1="320.01" x2="41.9" y2="320.01" stroke="#7a7a7a" stroke-width="0.7" />
<line x1="215" y1="320.01" x2="213.7" y2="320.01" stroke="#7a7a7a" stroke-width="0.7" />
<line x1="40.6" y1="315.58" x2="41.9" y2="315.58" stroke="#7a7a7a" stroke-width="0.7" />
<line x1="215" y1="315.58" x2="213.7" y2="315.58" stroke="#7a7a7a" stroke-width="0.7" />
<line x1="40.6" y1="312.43" x2="41.9" y2="312.43" stroke="#7a7a7a" stroke-width="0.7" />
<line x1="215" y1="312.43" x2="213.7" y2="312.43" stroke="#7a7a7a" stroke-width="0.7" />
<line x1="40.6" y1="309.99" x2="41.9" y2="309.99" stroke="#7a7a7a" stroke-width="0.7" />
<line x1="215" y1="309.99" x2="213.7" y2="309.99" stroke="#7a7a7a" stroke-width="0.7" />
<line x1="40.6" y1="307.99" x2="41.9" y2="307.99" stroke="#7a7a7a" stroke-width="0.7" />
<line x1="215" y1="307.99" x2="213.7" y2="307.99" stroke="#7a7a7a" stroke-width="0.7" />
<line x1="40.6" y1="306.3" x2="41.9" y2="306.3" stroke="#7a7a7a" stroke-width="0.7" />
<line x1="215" y1="306.3" x2="213.7" y2="306.3" stroke="#7a7a7a" stroke-width="0.7" />
<line x1="40.6" y1="304.84" x2="41.9" y2="304.84" stroke="#7a7a7a" stroke-width="0.7" />
<line x1="215" y1="304.84" x2="213.7" y2="304.84" stroke="#7a7a7a" stroke-width="0.7" />
<line x1="40.6" y1="303.55" x2="41.9" y2="303.55" stroke="#7a7a7a" stroke-width="0.7" />
<line x1="215" y1="303.55" x2="213.7" y2="303.55" stroke="#7a7a7a" stroke-width="0.7" />
<line x1="40.6" y1="302.4" x2="43.1" y2="302.4" stroke="#7a7a7a" stroke-width="0.7" />
<line x1="215" y1="302.4" x2="212.5" y2="302.4" stroke="#7a7a7a" stroke-width="0.7" />
<line x1="40.6" y1="294.81" x2="41.9" y2="294.81" stroke="#7a7a7a" stroke-width="0.7" />
<line x1="215" y1="294.81" x2="213.7" y2="294.81" stroke="#7a7a7a" stroke-width="0.7" />
<line x1="40.6" y1="290.38" x2="41.9" y2="290.38" stroke="#7a7a7a" stroke-width="0.7" />
<line x1="215" y1="290.38" x2="213.7" y2="290.38" stroke="#7a7a7a" stroke-width="0.7" />
<line x1="40.6" y1="287.23" x2="41.9" y2="287.23" stroke="#7a7a7a" stroke-width="0.7" />
<line x1="215" y1="287.23" x2="213.7" y2="287.23" stroke="#7a7a7a" stroke-width="0.7" />
<line x1="40.6" y1="284.79" x2="41.9" y2="284.79" stroke="#7a7a7a" stroke-width="0.7" />
<line x1="215" y1="284.79" x2="213.7" y2="284.79" stroke="#7a7a7a" stroke-width="0.7" />
<line x1="40.6" y1="282.79" x2="41.9" y2="282.79" stroke="#7a7a7a" stroke-width="0.7" />
<line x1="215" y1="282.79" x2="213.7" y2="282.79" stroke="#7a7a7a" stroke-width="0.7" />
<line x1="40.6" y1="281.1" x2="41.9" y2="281.1" stroke="#7a7a7a" stroke-width="0.7" />
<line x1="215" y1="281.1" x2="213.7" y2="281.1" stroke="#7a7a7a" stroke-width="0.7" />
<line x1="40.6" y1="279.64" x2="41.9" y2="279.64" stroke="#7a7a7a" stroke-width="0.7" />
<line x1="215" y1="279.64" x2="213.7" y2="279.64" stroke="#7a7a7a" stroke-width="0.7" />
<line x1="40.6" y1="278.35" x2="41.9" y2="278.35" stroke="#7a7a7a" stroke-width="0.7" />
<line x1="215" y1="278.35" x2="213.7" y2="278.35" stroke="#7a7a7a" stroke-width="0.7" />
<line x1="40.6" y1="277.2" x2="43.1" y2="277.2" stroke="#7a7a7a" stroke-width="0.7" />
<line x1="215" y1="277.2" x2="212.5" y2="277.2" stroke="#7a7a7a" stroke-width="0.7" />
<line x1="40.6" y1="269.61" x2="41.9" y2="269.61" stroke="#7a7a7a" stroke-width="0.7" />
<line x1="215" y1="269.61" x2="213.7" y2="269.61" stroke="#7a7a7a" stroke-width="0.7" />
<line x1="40.6" y1="265.18" x2="41.9" y2="265.18" stroke="#7a7a7a" stroke-width="0.7" />
<line x1="215" y1="265.18" x2="213.7" y2="265.18" stroke="#7a7a7a" stroke-width="0.7" />
<line x1="40.6" y1="262.03" x2="41.9" y2="262.03" stroke="#7a7a7a" stroke-width="0.7" />
<line x1="215" y1="262.03" x2="213.7" y2="262.03" stroke="#7a7a7a" stroke-width="0.7" />
<line x1="40.6" y1="259.59" x2="41.9" y2="259.59" stroke="#7a7a7a" stroke-width="0.7" />
<line x1="215" y1="259.59" x2="213.7" y2="259.59" stroke="#7a7a7a" stroke-width="0.7" />
<line x1="40.6" y1="257.59" x2="41.9" y2="257.59" stroke="#7a7a7a" stroke-width="0.7" />
<line x1="215" y1="257.59" x2="213.7" y2="257.59" stroke="#7a7a7a" stroke-width="0.7" />
<line x1="40.6" y1="255.9" x2="41.9" y2="255.9" stroke="#7a7a7a" stroke-width="0.7" />
<line x1="215" y1="255.9" x2="213.7" y2="255.9" stroke="#7a7a7a" stroke-width="0.7" />
<line x1="40.6" y1="254.44" x2="41.9" y2="254.44" stroke="#7a7a7a" stroke-width="0.7" />
<line x1="215" y1="254.44" x2="213.7" y2="254.44" stroke="#7a7a7a" stroke-width="0.7" />
<line x1="40.6" y1="253.15" x2="41.9" y2="253.15" stroke="#7a7a7a" stroke-width="0.7" />
<line x1="215" y1="253.15" x2="213.7" y2="253.15" stroke="#7a7a7a" stroke-width="0.7" />
<text class="s" x="23.0" y="432.5" font-size="10" fill="#222" stroke="#222" stroke-width="0.22" textLength="8.2" lengthAdjust="spacingAndGlyphs">10</text>
<text class="s" x="31.9" y="427.2" font-size="6.2" fill="#222" stroke="#222" stroke-width="0.12" textLength="5.2" lengthAdjust="spacingAndGlyphs">14</text>
<text class="s" x="23.0" y="407.3" font-size="10" fill="#222" stroke="#222" stroke-width="0.22" textLength="8.2" lengthAdjust="spacingAndGlyphs">10</text>
<text class="s" x="31.9" y="402.0" font-size="6.2" fill="#222" stroke="#222" stroke-width="0.12" textLength="5.2" lengthAdjust="spacingAndGlyphs">15</text>
<text class="s" x="23.0" y="382.1" font-size="10" fill="#222" stroke="#222" stroke-width="0.22" textLength="8.2" lengthAdjust="spacingAndGlyphs">10</text>
<text class="s" x="31.9" y="376.8" font-size="6.2" fill="#222" stroke="#222" stroke-width="0.12" textLength="5.2" lengthAdjust="spacingAndGlyphs">16</text>
<text class="s" x="23.0" y="356.9" font-size="10" fill="#222" stroke="#222" stroke-width="0.22" textLength="8.2" lengthAdjust="spacingAndGlyphs">10</text>
<text class="s" x="31.9" y="351.59999999999997" font-size="6.2" fill="#222" stroke="#222" stroke-width="0.12" textLength="5.2" lengthAdjust="spacingAndGlyphs">17</text>
<text class="s" x="23.0" y="331.7" font-size="10" fill="#222" stroke="#222" stroke-width="0.22" textLength="8.2" lengthAdjust="spacingAndGlyphs">10</text>
<text class="s" x="31.9" y="326.4" font-size="6.2" fill="#222" stroke="#222" stroke-width="0.12" textLength="5.2" lengthAdjust="spacingAndGlyphs">18</text>
<text class="s" x="23.0" y="306.5" font-size="10" fill="#222" stroke="#222" stroke-width="0.22" textLength="8.2" lengthAdjust="spacingAndGlyphs">10</text>
<text class="s" x="31.9" y="301.2" font-size="6.2" fill="#222" stroke="#222" stroke-width="0.12" textLength="5.2" lengthAdjust="spacingAndGlyphs">19</text>
<rect x="34" y="244" width="10.4" height="39" fill="#fff"/>
<clipPath id="clc"><rect x="0" y="283.6" width="40" height="200"/></clipPath>
<g clip-path="url(#clc)">
<text class="s" x="13.6" y="434.1" font-size="11" fill="#222" stroke="#222" stroke-width="0.22" textLength="150.4" lengthAdjust="spacingAndGlyphs" transform="rotate(-90 13.6 434.1)">Density of states, <tspan font-style="italic">g</tspan> (<tspan font-style="italic">E</tspan>) (cm</text>
</g>
<circle cx="4.6" cy="276.5" r="0.9" fill="#555"/>
<circle cx="5.0" cy="265" r="0.6" fill="#555"/>
<circle cx="5.0" cy="260.2" r="0.6" fill="#555"/>
<circle cx="5.0" cy="252.4" r="0.8" fill="#555"/>
<circle cx="5.0" cy="248.5" r="0.5" fill="#555"/>
<text class="s" x="96.6" y="456.2" font-size="11.2" fill="#222" stroke="#222" stroke-width="0.22" textLength="62.4" lengthAdjust="spacingAndGlyphs">Energy, <tspan font-style="italic">E</tspan> (eV)</text>
<text class="s" x="51.0" y="268.9" font-size="9.4" fill="#222" stroke="#222" stroke-width="0.22" textLength="23" lengthAdjust="spacingAndGlyphs">HOMO</text>
<text class="s" x="173.0" y="268.9" font-size="9.4" fill="#222" stroke="#222" stroke-width="0.22" textLength="22" lengthAdjust="spacingAndGlyphs">LUMO</text>
<text class="s" x="91.0" y="273.0" font-size="9.0" fill="#222" stroke="#222" stroke-width="0.22" textLength="61" lengthAdjust="spacingAndGlyphs">345 nm irradiation</text>
<line x1="116" y1="363.7" x2="189" y2="363.7" stroke="#bdbdbd" stroke-width="0.8" />
<line x1="128" y1="378.2" x2="189" y2="378.2" stroke="#bdbdbd" stroke-width="0.8" />
<path d="M113,363.7 L116.4,361.9 L116.4,365.5 Z" fill="#111"/>
<path d="M125.2,378.2 L128.6,376.4 L128.6,380 Z" fill="#111"/>
<path d="M193.4,363.7 L190,361.9 L190,365.5 Z" fill="#111"/>
<path d="M193.4,378.2 L190,376.4 L190,380 Z" fill="#111"/>
<text class="s" x="136.2" y="359.2" font-size="9.6" fill="#222" stroke="#222" stroke-width="0.22" textLength="39" lengthAdjust="spacingAndGlyphs">&#916;<tspan font-style="italic">E</tspan> = 2.8eV</text>
<text class="s" x="136.2" y="374.6" font-size="9.6" fill="#222" stroke="#222" stroke-width="0.22" textLength="39" lengthAdjust="spacingAndGlyphs">&#916;<tspan font-style="italic">E</tspan> = 2.4eV</text>
<line x1="192.2" y1="336" x2="192.2" y2="428" stroke="#d6d6d6" stroke-width="0.8" />
<line x1="113.5" y1="405" x2="113.5" y2="428" stroke="#e0e0e0" stroke-width="0.8" />
<line x1="127.5" y1="405" x2="127.5" y2="428" stroke="#e0e0e0" stroke-width="0.8" />
<polyline points="50.2,284.1 53.2,282.1 56.4,280.0 60.2,285.3 63.2,295.2 65.5,305.6 68.2,317.3 70.8,325.1 73.9,326.1 76.9,323.6 79.2,325.6 80.7,329.4 83.0,334.0 84.5,338.6 85.5,346.6 86.2,354.6 86.8,362.6 86.0,368.0 90.0,370.0 95.0,372.0 100.0,373.0 105.0,374.0 110.0,375.0 115.0,378.0 120.0,382.0 125.0,390.0 130.0,398.0 135.0,403.0 140.0,406.0 145.0,408.5 150.0,410.0 156.0,412.0 158.7,410.2 163.7,407.7 168.7,403.2 173.7,398.2 177.7,393.2 179.7,389.2 181.2,384.2 182.3,375.2 183.1,365.2 183.9,357.2 184.7,349.2 185.7,341.2 186.5,335.2 187.7,321.2 188.7,308.2 190.7,295.2 192.7,286.2 194.7,280.2 196.7,275.2 198.7,270.2 200.2,266.7 201.2,264.2" fill="none" stroke="#555" stroke-width="0.7" stroke-linejoin="round" stroke-linecap="round" />
<polyline points="49.4,289.5 50.8,285.2 53.8,283.2 57.0,281.1 60.8,286.4 63.8,296.3 66.1,306.7 68.8,318.4 71.4,326.2 74.5,327.2 77.5,324.7 79.8,326.7 81.3,330.5 83.6,335.1 85.1,339.7 86.1,347.7 86.8,355.7 87.4,363.7 87.5,386.0 94.0,389.0 100.0,391.0 110.0,394.0 120.0,398.0 130.0,403.0 140.0,407.0 150.0,410.0 156.0,412.0 159.2,411.2 164.2,408.7 169.2,404.2 174.2,399.2 178.2,394.2 180.2,390.2 181.7,385.2 182.8,376.2 183.6,366.2 184.4,358.2 185.2,350.2 186.2,342.2 187.0,336.2 188.2,322.2 189.2,309.2 191.2,296.2 193.2,287.2 195.2,281.2 197.2,276.2 199.2,271.2 200.7,267.7 201.7,265.2" fill="none" stroke="#555" stroke-width="0.7" stroke-linejoin="round" stroke-linecap="round" />
<polyline points="49.6,293.2 50.5,284.6 53.5,282.6 56.7,280.5 60.5,285.8 63.5,295.7 65.8,306.1 68.5,317.8 71.1,325.6 74.2,326.6 77.2,324.1 79.5,326.1 81.0,329.9 83.3,334.5 84.8,339.1 85.8,347.1 86.5,355.1 87.1,363.1 89.0,398.0 95.0,401.0 102.0,404.0 110.0,406.0 120.0,409.0 130.0,411.0 140.0,412.0 156.0,412.5 159.0,410.6 164.0,408.1 169.0,403.6 174.0,398.6 178.0,393.6 180.0,389.6 181.5,384.6 182.6,375.6 183.4,365.6 184.2,357.6 185.0,349.6 186.0,341.6 186.8,335.6 188.0,321.6 189.0,308.6 191.0,295.6 193.0,286.6 195.0,280.6 197.0,275.6 199.0,270.6 200.5,267.1 201.5,264.6" fill="none" stroke="#555" stroke-width="0.7" stroke-linejoin="round" stroke-linecap="round" />
<polyline points="48.7,286.0 51.7,284.0 54.9,281.9 58.7,287.2 61.7,297.1 64.0,307.5 66.7,319.2 69.3,327.0 72.4,328.0 75.4,325.5 77.7,327.5 79.2,331.3 81.5,335.9 83.0,340.5 84.0,348.5 84.7,356.5 85.3,364.5 86.5,381.0 92.0,382.0 98.0,383.0 103.0,385.0 108.0,386.5 112.0,390.0 116.0,393.0 120.0,396.5 125.0,400.5 130.0,403.0 136.0,405.5 145.0,408.5 150.0,410.5 156.0,412.0 160.3,411.4 165.3,408.9 170.3,404.4 175.3,399.4 179.3,394.4 181.3,390.4 182.8,385.4 183.9,376.4 184.7,366.4 185.5,358.4 186.3,350.4 187.3,342.4 188.1,336.4 189.3,322.4 190.3,309.4 192.3,296.4 194.3,287.4 196.3,281.4 198.3,276.4 200.3,271.4 201.8,267.9" fill="none" stroke="#000" stroke-width="1.2" stroke-linejoin="round" stroke-linecap="round" />
<polyline points="49.3,285.8 52.3,283.8 55.5,281.7 59.3,287.0 62.3,296.9 64.6,307.3 67.3,319.0 69.9,326.8 73.0,327.8 76.0,325.3 78.3,327.3 79.8,331.1 82.1,335.7 83.6,340.3 84.6,348.3 85.3,356.3 85.9,364.3 88.0,394.0 94.0,396.0 100.0,398.0 108.0,401.0 116.0,403.0 125.0,406.0 135.0,409.0 145.0,411.0 156.0,412.0 160.4,411.3 165.4,408.8 170.4,404.3 175.4,399.3 179.4,394.3 181.4,390.3 182.9,385.3 184.0,376.3 184.8,366.3 185.6,358.3 186.4,350.3 187.4,342.3 188.2,336.3 189.4,322.3 190.4,309.3 192.4,296.3 194.4,287.3 196.4,281.3 198.4,276.3 200.4,271.3 201.9,267.8" fill="none" stroke="#000" stroke-width="1.2" stroke-linejoin="round" stroke-linecap="round" />
<polyline points="49.0,285.5 52.0,283.5 55.2,281.4 59.0,286.7 62.0,296.6 64.3,307.0 67.0,318.7 69.6,326.5 72.7,327.5 75.7,325.0 78.0,327.0 79.5,330.8 81.8,335.4 83.3,340.0 84.3,348.0 85.0,356.0 85.6,364.0 90.0,404.0 93.0,406.5 98.0,409.0 104.0,411.6 110.0,411.6 118.0,412.0 126.0,413.0 135.0,413.0 145.0,413.0 156.0,412.0 160.0,411.0 165.0,408.5 170.0,404.0 175.0,399.0 179.0,394.0 181.0,390.0 182.5,385.0 183.6,376.0 184.4,366.0 185.2,358.0 186.0,350.0 187.0,342.0 187.8,336.0 189.0,322.0 190.0,309.0 192.0,296.0 194.0,287.0 196.0,281.0 198.0,276.0 200.0,271.0 201.5,267.5" fill="none" stroke="#000" stroke-width="1.2" stroke-linejoin="round" stroke-linecap="round" />
<circle cx="52.1" cy="282.8" r="1.50" fill="#fff" stroke="#1a1a1a" stroke-width="0.75"/>
<circle cx="55.9" cy="280.3" r="1.50" fill="#fff" stroke="#1a1a1a" stroke-width="0.75"/>
<circle cx="59.5" cy="284.3" r="1.50" fill="#fff" stroke="#1a1a1a" stroke-width="0.75"/>
<circle cx="62.2" cy="292.0" r="1.50" fill="#fff" stroke="#1a1a1a" stroke-width="0.75"/>
<circle cx="64.5" cy="301.1" r="1.50" fill="#fff" stroke="#1a1a1a" stroke-width="0.75"/>
<circle cx="66.6" cy="310.4" r="1.50" fill="#fff" stroke="#1a1a1a" stroke-width="0.75"/>
<circle cx="68.9" cy="319.4" r="1.50" fill="#fff" stroke="#1a1a1a" stroke-width="0.75"/>
<circle cx="71.9" cy="325.5" r="1.50" fill="#fff" stroke="#1a1a1a" stroke-width="0.75"/>
<circle cx="75.7" cy="324.6" r="1.50" fill="#fff" stroke="#1a1a1a" stroke-width="0.75"/>
<circle cx="79.4" cy="326.2" r="1.50" fill="#fff" stroke="#1a1a1a" stroke-width="0.75"/>
<circle cx="82.5" cy="333.0" r="1.50" fill="#fff" stroke="#1a1a1a" stroke-width="0.75"/>
<circle cx="84.9" cy="341.5" r="1.50" fill="#fff" stroke="#1a1a1a" stroke-width="0.75"/>
<circle cx="86.0" cy="352.2" r="1.50" fill="#fff" stroke="#1a1a1a" stroke-width="0.75"/>
<circle cx="86.7" cy="363.0" r="1.50" fill="#fff" stroke="#1a1a1a" stroke-width="0.75"/>
<circle cx="88.0" cy="369.0" r="1.50" fill="#fff" stroke="#1a1a1a" stroke-width="0.75"/>
<circle cx="91.8" cy="370.7" r="1.50" fill="#fff" stroke="#1a1a1a" stroke-width="0.75"/>
<circle cx="95.7" cy="372.1" r="1.50" fill="#fff" stroke="#1a1a1a" stroke-width="0.75"/>
<circle cx="99.6" cy="372.9" r="1.50" fill="#fff" stroke="#1a1a1a" stroke-width="0.75"/>
<circle cx="103.5" cy="373.7" r="1.50" fill="#fff" stroke="#1a1a1a" stroke-width="0.75"/>
<circle cx="107.4" cy="374.5" r="1.50" fill="#fff" stroke="#1a1a1a" stroke-width="0.75"/>
<circle cx="111.2" cy="375.7" r="1.50" fill="#fff" stroke="#1a1a1a" stroke-width="0.75"/>
<circle cx="115.0" cy="378.0" r="1.50" fill="#fff" stroke="#1a1a1a" stroke-width="0.75"/>
<circle cx="118.8" cy="381.0" r="1.50" fill="#fff" stroke="#1a1a1a" stroke-width="0.75"/>
<circle cx="122.3" cy="385.7" r="1.50" fill="#fff" stroke="#1a1a1a" stroke-width="0.75"/>
<circle cx="125.7" cy="391.2" r="1.50" fill="#fff" stroke="#1a1a1a" stroke-width="0.75"/>
<circle cx="129.1" cy="396.6" r="1.50" fill="#fff" stroke="#1a1a1a" stroke-width="0.75"/>
<circle cx="132.7" cy="400.7" r="1.50" fill="#fff" stroke="#1a1a1a" stroke-width="0.75"/>
<circle cx="136.5" cy="403.9" r="1.50" fill="#fff" stroke="#1a1a1a" stroke-width="0.75"/>
<circle cx="140.3" cy="406.1" r="1.50" fill="#fff" stroke="#1a1a1a" stroke-width="0.75"/>
<circle cx="144.1" cy="408.1" r="1.50" fill="#fff" stroke="#1a1a1a" stroke-width="0.75"/>
<circle cx="148.0" cy="409.4" r="1.50" fill="#fff" stroke="#1a1a1a" stroke-width="0.75"/>
<circle cx="151.9" cy="410.6" r="1.50" fill="#fff" stroke="#1a1a1a" stroke-width="0.75"/>
<circle cx="155.7" cy="411.9" r="1.50" fill="#fff" stroke="#1a1a1a" stroke-width="0.75"/>
<circle cx="159.6" cy="409.8" r="1.50" fill="#fff" stroke="#1a1a1a" stroke-width="0.75"/>
<circle cx="163.4" cy="407.8" r="1.50" fill="#fff" stroke="#1a1a1a" stroke-width="0.75"/>
<circle cx="167.1" cy="404.6" r="1.50" fill="#fff" stroke="#1a1a1a" stroke-width="0.75"/>
<circle cx="170.8" cy="401.1" r="1.50" fill="#fff" stroke="#1a1a1a" stroke-width="0.75"/>
<circle cx="174.5" cy="397.2" r="1.50" fill="#fff" stroke="#1a1a1a" stroke-width="0.75"/>
<circle cx="178.0" cy="392.6" r="1.50" fill="#fff" stroke="#1a1a1a" stroke-width="0.75"/>
<circle cx="180.9" cy="385.2" r="1.50" fill="#fff" stroke="#1a1a1a" stroke-width="0.75"/>
<circle cx="182.3" cy="374.9" r="1.50" fill="#fff" stroke="#1a1a1a" stroke-width="0.75"/>
<circle cx="183.2" cy="364.0" r="1.50" fill="#fff" stroke="#1a1a1a" stroke-width="0.75"/>
<circle cx="184.3" cy="353.3" r="1.50" fill="#fff" stroke="#1a1a1a" stroke-width="0.75"/>
<circle cx="185.5" cy="342.8" r="1.50" fill="#fff" stroke="#1a1a1a" stroke-width="0.75"/>
<circle cx="186.8" cy="332.2" r="1.50" fill="#fff" stroke="#1a1a1a" stroke-width="0.75"/>
<circle cx="187.7" cy="321.4" r="1.50" fill="#fff" stroke="#1a1a1a" stroke-width="0.75"/>
<circle cx="188.5" cy="310.5" r="1.50" fill="#fff" stroke="#1a1a1a" stroke-width="0.75"/>
<circle cx="189.9" cy="300.2" r="1.50" fill="#fff" stroke="#1a1a1a" stroke-width="0.75"/>
<circle cx="191.8" cy="290.4" r="1.50" fill="#fff" stroke="#1a1a1a" stroke-width="0.75"/>
<circle cx="194.2" cy="281.7" r="1.50" fill="#fff" stroke="#1a1a1a" stroke-width="0.75"/>
<circle cx="197.1" cy="274.2" r="1.50" fill="#fff" stroke="#1a1a1a" stroke-width="0.75"/>
<circle cx="200.1" cy="267.0" r="1.50" fill="#fff" stroke="#1a1a1a" stroke-width="0.75"/>
<path d="M51.3,282.9 L53.0,284.8 L51.3,286.7 L49.6,284.8 Z" fill="#fff" stroke="#1a1a1a" stroke-width="0.75"/>
<path d="M55.1,280.4 L56.8,282.3 L55.1,284.2 L53.4,282.3 Z" fill="#fff" stroke="#1a1a1a" stroke-width="0.75"/>
<path d="M58.8,281.7 L60.5,283.6 L58.8,285.5 L57.1,283.6 Z" fill="#fff" stroke="#1a1a1a" stroke-width="0.75"/>
<path d="M61.9,288.1 L63.6,290.0 L61.9,291.9 L60.2,290.0 Z" fill="#fff" stroke="#1a1a1a" stroke-width="0.75"/>
<path d="M64.3,296.7 L66.0,298.6 L64.3,300.5 L62.6,298.6 Z" fill="#fff" stroke="#1a1a1a" stroke-width="0.75"/>
<path d="M66.4,306.1 L68.1,308.0 L66.4,309.9 L64.7,308.0 Z" fill="#fff" stroke="#1a1a1a" stroke-width="0.75"/>
<path d="M68.6,315.4 L70.3,317.3 L68.6,319.2 L66.9,317.3 Z" fill="#fff" stroke="#1a1a1a" stroke-width="0.75"/>
<path d="M71.2,323.7 L72.9,325.6 L71.2,327.5 L69.5,325.6 Z" fill="#fff" stroke="#1a1a1a" stroke-width="0.75"/>
<path d="M74.9,324.9 L76.6,326.8 L74.9,328.7 L73.2,326.8 Z" fill="#fff" stroke="#1a1a1a" stroke-width="0.75"/>
<path d="M78.7,323.8 L80.4,325.7 L78.7,327.6 L77.0,325.7 Z" fill="#fff" stroke="#1a1a1a" stroke-width="0.75"/>
<path d="M81.9,329.8 L83.6,331.7 L81.9,333.6 L80.2,331.7 Z" fill="#fff" stroke="#1a1a1a" stroke-width="0.75"/>
<path d="M84.8,337.0 L86.5,338.9 L84.8,340.8 L83.1,338.9 Z" fill="#fff" stroke="#1a1a1a" stroke-width="0.75"/>
<path d="M86.2,347.3 L87.9,349.2 L86.2,351.1 L84.5,349.2 Z" fill="#fff" stroke="#1a1a1a" stroke-width="0.75"/>
<path d="M87.1,358.2 L88.8,360.1 L87.1,362.0 L85.4,360.1 Z" fill="#fff" stroke="#1a1a1a" stroke-width="0.75"/>
<path d="M87.4,369.2 L89.1,371.1 L87.4,373.0 L85.7,371.1 Z" fill="#fff" stroke="#1a1a1a" stroke-width="0.75"/>
<path d="M87.5,380.4 L89.2,382.3 L87.5,384.2 L85.8,382.3 Z" fill="#fff" stroke="#1a1a1a" stroke-width="0.75"/>
<path d="M90.1,385.3 L91.8,387.2 L90.1,389.1 L88.4,387.2 Z" fill="#fff" stroke="#1a1a1a" stroke-width="0.75"/>
<path d="M93.9,387.1 L95.6,389.0 L93.9,390.9 L92.2,389.0 Z" fill="#fff" stroke="#1a1a1a" stroke-width="0.75"/>
<path d="M97.8,388.4 L99.5,390.3 L97.8,392.2 L96.1,390.3 Z" fill="#fff" stroke="#1a1a1a" stroke-width="0.75"/>
<path d="M101.7,389.6 L103.4,391.5 L101.7,393.4 L100.0,391.5 Z" fill="#fff" stroke="#1a1a1a" stroke-width="0.75"/>
<path d="M105.5,390.8 L107.2,392.7 L105.5,394.6 L103.8,392.7 Z" fill="#fff" stroke="#1a1a1a" stroke-width="0.75"/>
<path d="M109.4,391.9 L111.1,393.8 L109.4,395.7 L107.7,393.8 Z" fill="#fff" stroke="#1a1a1a" stroke-width="0.75"/>
<path d="M113.3,393.4 L115.0,395.3 L113.3,397.2 L111.6,395.3 Z" fill="#fff" stroke="#1a1a1a" stroke-width="0.75"/>
<path d="M117.1,395.0 L118.8,396.9 L117.1,398.8 L115.4,396.9 Z" fill="#fff" stroke="#1a1a1a" stroke-width="0.75"/>
<path d="M121.0,396.6 L122.7,398.5 L121.0,400.4 L119.3,398.5 Z" fill="#fff" stroke="#1a1a1a" stroke-width="0.75"/>
<path d="M124.8,398.5 L126.5,400.4 L124.8,402.3 L123.1,400.4 Z" fill="#fff" stroke="#1a1a1a" stroke-width="0.75"/>
<path d="M128.7,400.4 L130.4,402.3 L128.7,404.2 L127.0,402.3 Z" fill="#fff" stroke="#1a1a1a" stroke-width="0.75"/>
<path d="M132.5,402.1 L134.2,404.0 L132.5,405.9 L130.8,404.0 Z" fill="#fff" stroke="#1a1a1a" stroke-width="0.75"/>
<path d="M136.4,403.7 L138.1,405.6 L136.4,407.5 L134.7,405.6 Z" fill="#fff" stroke="#1a1a1a" stroke-width="0.75"/>
<path d="M140.3,405.2 L142.0,407.1 L140.3,409.0 L138.6,407.1 Z" fill="#fff" stroke="#1a1a1a" stroke-width="0.75"/>
<path d="M144.1,406.3 L145.8,408.2 L144.1,410.1 L142.4,408.2 Z" fill="#fff" stroke="#1a1a1a" stroke-width="0.75"/>
<path d="M148.0,407.5 L149.7,409.4 L148.0,411.3 L146.3,409.4 Z" fill="#fff" stroke="#1a1a1a" stroke-width="0.75"/>
<path d="M151.9,408.7 L153.6,410.6 L151.9,412.5 L150.2,410.6 Z" fill="#fff" stroke="#1a1a1a" stroke-width="0.75"/>
<path d="M155.8,410.0 L157.5,411.9 L155.8,413.8 L154.1,411.9 Z" fill="#fff" stroke="#1a1a1a" stroke-width="0.75"/>
<path d="M159.7,409.1 L161.4,411.0 L159.7,412.9 L158.0,411.0 Z" fill="#fff" stroke="#1a1a1a" stroke-width="0.75"/>
<path d="M163.5,407.2 L165.2,409.1 L163.5,411.0 L161.8,409.1 Z" fill="#fff" stroke="#1a1a1a" stroke-width="0.75"/>
<path d="M167.2,404.1 L168.9,406.0 L167.2,407.9 L165.5,406.0 Z" fill="#fff" stroke="#1a1a1a" stroke-width="0.75"/>
<path d="M170.9,400.6 L172.6,402.5 L170.9,404.4 L169.2,402.5 Z" fill="#fff" stroke="#1a1a1a" stroke-width="0.75"/>
<path d="M174.6,396.8 L176.3,398.7 L174.6,400.6 L172.9,398.7 Z" fill="#fff" stroke="#1a1a1a" stroke-width="0.75"/>
<path d="M178.2,392.3 L179.9,394.2 L178.2,396.1 L176.5,394.2 Z" fill="#fff" stroke="#1a1a1a" stroke-width="0.75"/>
<path d="M181.1,385.2 L182.8,387.1 L181.1,389.0 L179.4,387.1 Z" fill="#fff" stroke="#1a1a1a" stroke-width="0.75"/>
<path d="M182.7,375.1 L184.4,377.0 L182.7,378.9 L181.0,377.0 Z" fill="#fff" stroke="#1a1a1a" stroke-width="0.75"/>
<path d="M183.6,364.3 L185.3,366.2 L183.6,368.1 L181.9,366.2 Z" fill="#fff" stroke="#1a1a1a" stroke-width="0.75"/>
<path d="M184.7,353.6 L186.4,355.5 L184.7,357.4 L183.0,355.5 Z" fill="#fff" stroke="#1a1a1a" stroke-width="0.75"/>
<path d="M185.9,343.0 L187.6,344.9 L185.9,346.8 L184.2,344.9 Z" fill="#fff" stroke="#1a1a1a" stroke-width="0.75"/>
<path d="M187.2,332.5 L188.9,334.4 L187.2,336.3 L185.5,334.4 Z" fill="#fff" stroke="#1a1a1a" stroke-width="0.75"/>
<path d="M188.1,321.6 L189.8,323.5 L188.1,325.4 L186.4,323.5 Z" fill="#fff" stroke="#1a1a1a" stroke-width="0.75"/>
<path d="M188.9,310.8 L190.6,312.7 L188.9,314.6 L187.2,312.7 Z" fill="#fff" stroke="#1a1a1a" stroke-width="0.75"/>
<path d="M190.3,300.3 L192.0,302.2 L190.3,304.1 L188.6,302.2 Z" fill="#fff" stroke="#1a1a1a" stroke-width="0.75"/>
<path d="M192.1,290.5 L193.8,292.4 L192.1,294.3 L190.4,292.4 Z" fill="#fff" stroke="#1a1a1a" stroke-width="0.75"/>
<path d="M194.4,281.7 L196.1,283.6 L194.4,285.5 L192.7,283.6 Z" fill="#fff" stroke="#1a1a1a" stroke-width="0.75"/>
<path d="M197.3,274.1 L199.0,276.0 L197.3,277.9 L195.6,276.0 Z" fill="#fff" stroke="#1a1a1a" stroke-width="0.75"/>
<path d="M200.2,266.9 L201.9,268.8 L200.2,270.7 L198.5,268.8 Z" fill="#fff" stroke="#1a1a1a" stroke-width="0.75"/>
<circle cx="50.1" cy="288.8" r="1.50" fill="#fff" stroke="#1a1a1a" stroke-width="0.75"/>
<circle cx="52.8" cy="283.1" r="1.50" fill="#fff" stroke="#1a1a1a" stroke-width="0.75"/>
<circle cx="56.6" cy="280.6" r="1.50" fill="#fff" stroke="#1a1a1a" stroke-width="0.75"/>
<circle cx="60.1" cy="285.3" r="1.50" fill="#fff" stroke="#1a1a1a" stroke-width="0.75"/>
<circle cx="62.8" cy="293.3" r="1.50" fill="#fff" stroke="#1a1a1a" stroke-width="0.75"/>
<circle cx="65.0" cy="302.4" r="1.50" fill="#fff" stroke="#1a1a1a" stroke-width="0.75"/>
<circle cx="67.1" cy="311.8" r="1.50" fill="#fff" stroke="#1a1a1a" stroke-width="0.75"/>
<circle cx="69.4" cy="320.6" r="1.50" fill="#fff" stroke="#1a1a1a" stroke-width="0.75"/>
<circle cx="72.6" cy="326.1" r="1.50" fill="#fff" stroke="#1a1a1a" stroke-width="0.75"/>
<circle cx="76.4" cy="324.8" r="1.50" fill="#fff" stroke="#1a1a1a" stroke-width="0.75"/>
<circle cx="80.0" cy="327.3" r="1.50" fill="#fff" stroke="#1a1a1a" stroke-width="0.75"/>
<circle cx="83.1" cy="334.1" r="1.50" fill="#fff" stroke="#1a1a1a" stroke-width="0.75"/>
<circle cx="85.3" cy="343.0" r="1.50" fill="#fff" stroke="#1a1a1a" stroke-width="0.75"/>
<circle cx="86.4" cy="353.7" r="1.50" fill="#fff" stroke="#1a1a1a" stroke-width="0.75"/>
<circle cx="87.2" cy="364.6" r="1.50" fill="#fff" stroke="#1a1a1a" stroke-width="0.75"/>
<circle cx="87.8" cy="375.6" r="1.50" fill="#fff" stroke="#1a1a1a" stroke-width="0.75"/>
<circle cx="88.4" cy="386.6" r="1.50" fill="#fff" stroke="#1a1a1a" stroke-width="0.75"/>
<circle cx="89.0" cy="397.6" r="1.50" fill="#fff" stroke="#1a1a1a" stroke-width="0.75"/>
<circle cx="92.7" cy="399.8" r="1.50" fill="#fff" stroke="#1a1a1a" stroke-width="0.75"/>
<circle cx="96.5" cy="401.7" r="1.50" fill="#fff" stroke="#1a1a1a" stroke-width="0.75"/>
<circle cx="100.4" cy="403.3" r="1.50" fill="#fff" stroke="#1a1a1a" stroke-width="0.75"/>
<circle cx="104.3" cy="404.6" r="1.50" fill="#fff" stroke="#1a1a1a" stroke-width="0.75"/>
<circle cx="108.2" cy="405.5" r="1.50" fill="#fff" stroke="#1a1a1a" stroke-width="0.75"/>
<circle cx="112.0" cy="406.6" r="1.50" fill="#fff" stroke="#1a1a1a" stroke-width="0.75"/>
<circle cx="115.9" cy="407.8" r="1.50" fill="#fff" stroke="#1a1a1a" stroke-width="0.75"/>
<circle cx="119.8" cy="408.9" r="1.50" fill="#fff" stroke="#1a1a1a" stroke-width="0.75"/>
<circle cx="123.7" cy="409.7" r="1.50" fill="#fff" stroke="#1a1a1a" stroke-width="0.75"/>
<circle cx="127.6" cy="410.5" r="1.50" fill="#fff" stroke="#1a1a1a" stroke-width="0.75"/>
<circle cx="131.5" cy="411.1" r="1.50" fill="#fff" stroke="#1a1a1a" stroke-width="0.75"/>
<circle cx="135.4" cy="411.5" r="1.50" fill="#fff" stroke="#1a1a1a" stroke-width="0.75"/>
<circle cx="139.3" cy="411.9" r="1.50" fill="#fff" stroke="#1a1a1a" stroke-width="0.75"/>
<circle cx="143.2" cy="412.1" r="1.50" fill="#fff" stroke="#1a1a1a" stroke-width="0.75"/>
<circle cx="147.1" cy="412.2" r="1.50" fill="#fff" stroke="#1a1a1a" stroke-width="0.75"/>
<circle cx="151.0" cy="412.3" r="1.50" fill="#fff" stroke="#1a1a1a" stroke-width="0.75"/>
<circle cx="154.9" cy="412.5" r="1.50" fill="#fff" stroke="#1a1a1a" stroke-width="0.75"/>
<circle cx="158.7" cy="410.8" r="1.50" fill="#fff" stroke="#1a1a1a" stroke-width="0.75"/>
<circle cx="162.5" cy="408.8" r="1.50" fill="#fff" stroke="#1a1a1a" stroke-width="0.75"/>
<circle cx="166.3" cy="406.0" r="1.50" fill="#fff" stroke="#1a1a1a" stroke-width="0.75"/>
<circle cx="170.0" cy="402.6" r="1.50" fill="#fff" stroke="#1a1a1a" stroke-width="0.75"/>
<circle cx="173.7" cy="398.9" r="1.50" fill="#fff" stroke="#1a1a1a" stroke-width="0.75"/>
<circle cx="177.3" cy="394.5" r="1.50" fill="#fff" stroke="#1a1a1a" stroke-width="0.75"/>
<circle cx="180.4" cy="388.1" r="1.50" fill="#fff" stroke="#1a1a1a" stroke-width="0.75"/>
<circle cx="182.2" cy="378.5" r="1.50" fill="#fff" stroke="#1a1a1a" stroke-width="0.75"/>
<circle cx="183.2" cy="367.7" r="1.50" fill="#fff" stroke="#1a1a1a" stroke-width="0.75"/>
<circle cx="184.3" cy="357.0" r="1.50" fill="#fff" stroke="#1a1a1a" stroke-width="0.75"/>
<circle cx="185.4" cy="346.3" r="1.50" fill="#fff" stroke="#1a1a1a" stroke-width="0.75"/>
<circle cx="186.8" cy="335.9" r="1.50" fill="#fff" stroke="#1a1a1a" stroke-width="0.75"/>
<circle cx="187.7" cy="325.1" r="1.50" fill="#fff" stroke="#1a1a1a" stroke-width="0.75"/>
<circle cx="188.6" cy="314.2" r="1.50" fill="#fff" stroke="#1a1a1a" stroke-width="0.75"/>
<circle cx="189.8" cy="303.6" r="1.50" fill="#fff" stroke="#1a1a1a" stroke-width="0.75"/>
<circle cx="191.4" cy="293.6" r="1.50" fill="#fff" stroke="#1a1a1a" stroke-width="0.75"/>
<circle cx="193.7" cy="284.5" r="1.50" fill="#fff" stroke="#1a1a1a" stroke-width="0.75"/>
<circle cx="196.5" cy="276.9" r="1.50" fill="#fff" stroke="#1a1a1a" stroke-width="0.75"/>
<circle cx="199.4" cy="269.6" r="1.50" fill="#fff" stroke="#1a1a1a" stroke-width="0.75"/>
<path d="M51.9,281.8 L53.8,283.9 L51.9,286.0 L50.1,283.9 Z" fill="#000"/>
<path d="M55.7,280.8 L57.5,282.9 L55.7,285.0 L53.8,282.9 Z" fill="#000"/>
<path d="M59.0,286.2 L60.9,288.3 L59.0,290.4 L57.2,288.3 Z" fill="#000"/>
<path d="M61.6,294.6 L63.4,296.7 L61.6,298.8 L59.7,296.7 Z" fill="#000"/>
<path d="M63.7,304.0 L65.5,306.1 L63.7,308.2 L61.8,306.1 Z" fill="#000"/>
<path d="M65.8,313.3 L67.7,315.4 L65.8,317.5 L64.0,315.4 Z" fill="#000"/>
<path d="M68.3,321.9 L70.1,324.0 L68.3,326.1 L66.4,324.0 Z" fill="#000"/>
<path d="M71.7,325.7 L73.6,327.8 L71.7,329.9 L69.9,327.8 Z" fill="#000"/>
<path d="M75.5,323.5 L77.3,325.6 L75.5,327.7 L73.6,325.6 Z" fill="#000"/>
<path d="M78.9,328.4 L80.7,330.5 L78.9,332.6 L77.0,330.5 Z" fill="#000"/>
<path d="M82.0,335.2 L83.8,337.3 L82.0,339.4 L80.1,337.3 Z" fill="#000"/>
<path d="M83.8,344.8 L85.7,346.9 L83.8,349.0 L82.0,346.9 Z" fill="#000"/>
<path d="M84.8,355.6 L86.6,357.7 L84.8,359.8 L82.9,357.7 Z" fill="#000"/>
<path d="M85.6,366.5 L87.4,368.6 L85.6,370.7 L83.7,368.6 Z" fill="#000"/>
<path d="M86.4,377.4 L88.2,379.5 L86.4,381.6 L84.5,379.5 Z" fill="#000"/>
<path d="M89.9,379.5 L91.7,381.6 L89.9,383.7 L88.0,381.6 Z" fill="#000"/>
<path d="M93.7,380.2 L95.6,382.3 L93.7,384.4 L91.9,382.3 Z" fill="#000"/>
<path d="M97.6,380.8 L99.5,382.9 L97.6,385.0 L95.8,382.9 Z" fill="#000"/>
<path d="M101.5,382.3 L103.4,384.4 L101.5,386.5 L99.7,384.4 Z" fill="#000"/>
<path d="M105.4,383.6 L107.2,385.7 L105.4,387.8 L103.5,385.7 Z" fill="#000"/>
<path d="M109.2,385.5 L111.1,387.6 L109.2,389.7 L107.4,387.6 Z" fill="#000"/>
<path d="M112.9,388.6 L114.8,390.7 L112.9,392.8 L111.1,390.7 Z" fill="#000"/>
<path d="M116.7,391.5 L118.6,393.6 L116.7,395.7 L114.9,393.6 Z" fill="#000"/>
<path d="M120.4,394.8 L122.3,396.9 L120.4,399.0 L118.6,396.9 Z" fill="#000"/>
<path d="M124.2,397.8 L126.0,399.9 L124.2,402.0 L122.3,399.9 Z" fill="#000"/>
<path d="M128.0,399.9 L129.9,402.0 L128.0,404.1 L126.2,402.0 Z" fill="#000"/>
<path d="M131.9,401.7 L133.7,403.8 L131.9,405.9 L130.0,403.8 Z" fill="#000"/>
<path d="M135.7,403.3 L137.6,405.4 L135.7,407.5 L133.9,405.4 Z" fill="#000"/>
<path d="M139.6,404.6 L141.5,406.7 L139.6,408.8 L137.8,406.7 Z" fill="#000"/>
<path d="M143.5,405.9 L145.3,408.0 L143.5,410.1 L141.6,408.0 Z" fill="#000"/>
<path d="M147.3,407.3 L149.2,409.4 L147.3,411.5 L145.5,409.4 Z" fill="#000"/>
<path d="M151.2,408.7 L153.1,410.8 L151.2,412.9 L149.4,410.8 Z" fill="#000"/>
<path d="M155.1,409.7 L156.9,411.8 L155.1,413.9 L153.2,411.8 Z" fill="#000"/>
<path d="M159.0,409.5 L160.8,411.6 L159.0,413.7 L157.1,411.6 Z" fill="#000"/>
<path d="M162.9,408.0 L164.7,410.1 L162.9,412.2 L161.0,410.1 Z" fill="#000"/>
<path d="M166.6,405.6 L168.5,407.7 L166.6,409.8 L164.8,407.7 Z" fill="#000"/>
<path d="M170.4,402.2 L172.2,404.3 L170.4,406.4 L168.5,404.3 Z" fill="#000"/>
<path d="M174.0,398.6 L175.9,400.7 L174.0,402.8 L172.2,400.7 Z" fill="#000"/>
<path d="M177.7,394.4 L179.5,396.5 L177.7,398.6 L175.8,396.5 Z" fill="#000"/>
<path d="M181.0,388.8 L182.9,390.9 L181.0,393.0 L179.2,390.9 Z" fill="#000"/>
<path d="M183.2,379.9 L185.1,382.0 L183.2,384.1 L181.4,382.0 Z" fill="#000"/>
<path d="M184.3,369.2 L186.2,371.3 L184.3,373.4 L182.5,371.3 Z" fill="#000"/>
<path d="M185.3,358.4 L187.1,360.5 L185.3,362.6 L183.4,360.5 Z" fill="#000"/>
<path d="M186.4,347.7 L188.2,349.8 L186.4,351.9 L184.5,349.8 Z" fill="#000"/>
<path d="M187.7,337.3 L189.6,339.4 L187.7,341.5 L185.9,339.4 Z" fill="#000"/>
<path d="M188.8,326.6 L190.6,328.7 L188.8,330.8 L186.9,328.7 Z" fill="#000"/>
<path d="M189.7,315.7 L191.5,317.8 L189.7,319.9 L187.8,317.8 Z" fill="#000"/>
<path d="M190.7,305.0 L192.5,307.1 L190.7,309.2 L188.8,307.1 Z" fill="#000"/>
<path d="M192.2,294.8 L194.1,296.9 L192.2,299.0 L190.4,296.9 Z" fill="#000"/>
<path d="M194.3,285.3 L196.1,287.4 L194.3,289.5 L192.4,287.4 Z" fill="#000"/>
<path d="M197.0,277.4 L198.9,279.5 L197.0,281.6 L195.2,279.5 Z" fill="#000"/>
<path d="M200.0,270.1 L201.8,272.2 L200.0,274.3 L198.1,272.2 Z" fill="#000"/>
<path d="M48.2,283.8 L52.2,283.8 L50.2,287.1 Z" fill="#000"/>
<path d="M52.0,281.3 L56.0,281.3 L54.0,284.6 Z" fill="#000"/>
<path d="M55.6,283.2 L59.6,283.2 L57.6,286.5 Z" fill="#000"/>
<path d="M58.6,289.9 L62.6,289.9 L60.6,293.2 Z" fill="#000"/>
<path d="M61.0,298.7 L65.0,298.7 L63.0,302.0 Z" fill="#000"/>
<path d="M63.1,308.1 L67.1,308.1 L65.1,311.4 Z" fill="#000"/>
<path d="M65.3,317.4 L69.3,317.4 L67.3,320.7 Z" fill="#000"/>
<path d="M67.9,325.4 L71.9,325.4 L69.9,328.7 Z" fill="#000"/>
<path d="M71.8,325.7 L75.8,325.7 L73.8,329.0 Z" fill="#000"/>
<path d="M75.5,325.2 L79.5,325.2 L77.5,328.5 Z" fill="#000"/>
<path d="M78.7,331.5 L82.7,331.5 L80.7,334.8 Z" fill="#000"/>
<path d="M81.6,338.9 L85.6,338.9 L83.6,342.2 Z" fill="#000"/>
<path d="M82.8,349.4 L86.8,349.4 L84.8,352.7 Z" fill="#000"/>
<path d="M83.7,360.3 L87.7,360.3 L85.7,363.6 Z" fill="#000"/>
<path d="M84.5,371.2 L88.5,371.2 L86.5,374.5 Z" fill="#000"/>
<path d="M85.3,382.1 L89.3,382.1 L87.3,385.4 Z" fill="#000"/>
<path d="M86.2,392.7 L90.2,392.7 L88.2,396.0 Z" fill="#000"/>
<path d="M90.0,393.9 L94.0,393.9 L92.0,397.2 Z" fill="#000"/>
<path d="M93.9,395.2 L97.9,395.2 L95.9,398.5 Z" fill="#000"/>
<path d="M97.8,396.5 L101.8,396.5 L99.8,399.8 Z" fill="#000"/>
<path d="M101.6,398.0 L105.6,398.0 L103.6,401.3 Z" fill="#000"/>
<path d="M105.5,399.4 L109.5,399.4 L107.5,402.7 Z" fill="#000"/>
<path d="M109.4,400.4 L113.4,400.4 L111.4,403.7 Z" fill="#000"/>
<path d="M113.3,401.4 L117.3,401.4 L115.3,404.7 Z" fill="#000"/>
<path d="M117.2,402.7 L121.2,402.7 L119.2,406.0 Z" fill="#000"/>
<path d="M121.0,403.9 L125.0,403.9 L123.0,407.2 Z" fill="#000"/>
<path d="M124.9,405.2 L128.9,405.2 L126.9,408.5 Z" fill="#000"/>
<path d="M128.8,406.3 L132.8,406.3 L130.8,409.6 Z" fill="#000"/>
<path d="M132.7,407.5 L136.7,407.5 L134.7,410.8 Z" fill="#000"/>
<path d="M136.5,408.3 L140.5,408.3 L138.5,411.6 Z" fill="#000"/>
<path d="M140.4,409.1 L144.4,409.1 L142.4,412.4 Z" fill="#000"/>
<path d="M144.3,409.7 L148.3,409.7 L146.3,413.0 Z" fill="#000"/>
<path d="M148.2,410.1 L152.2,410.1 L150.2,413.4 Z" fill="#000"/>
<path d="M152.1,410.4 L156.1,410.4 L154.1,413.7 Z" fill="#000"/>
<path d="M156.0,410.3 L160.0,410.3 L158.0,413.6 Z" fill="#000"/>
<path d="M159.9,409.2 L163.9,409.2 L161.9,412.5 Z" fill="#000"/>
<path d="M163.7,407.1 L167.7,407.1 L165.7,410.4 Z" fill="#000"/>
<path d="M167.4,403.8 L171.4,403.8 L169.4,407.1 Z" fill="#000"/>
<path d="M171.1,400.2 L175.1,400.2 L173.1,403.5 Z" fill="#000"/>
<path d="M174.8,396.2 L178.8,396.2 L176.8,399.5 Z" fill="#000"/>
<path d="M178.3,391.2 L182.3,391.2 L180.3,394.5 Z" fill="#000"/>
<path d="M181.0,383.4 L185.0,383.4 L183.0,386.7 Z" fill="#000"/>
<path d="M182.2,372.8 L186.2,372.8 L184.2,376.1 Z" fill="#000"/>
<path d="M183.1,362.0 L187.1,362.0 L185.1,365.3 Z" fill="#000"/>
<path d="M184.2,351.3 L188.2,351.3 L186.2,354.6 Z" fill="#000"/>
<path d="M185.4,340.7 L189.4,340.7 L187.4,344.0 Z" fill="#000"/>
<path d="M186.6,330.1 L190.6,330.1 L188.6,333.4 Z" fill="#000"/>
<path d="M187.5,319.3 L191.5,319.3 L189.5,322.6 Z" fill="#000"/>
<path d="M188.4,308.4 L192.4,308.4 L190.4,311.7 Z" fill="#000"/>
<path d="M189.9,298.2 L193.9,298.2 L191.9,301.5 Z" fill="#000"/>
<path d="M191.8,288.5 L195.8,288.5 L193.8,291.8 Z" fill="#000"/>
<path d="M194.3,280.1 L198.3,280.1 L196.3,283.4 Z" fill="#000"/>
<path d="M197.3,272.7 L201.3,272.7 L199.3,276.0 Z" fill="#000"/>
<circle cx="49.3" cy="285.3" r="1.75" fill="#000"/>
<circle cx="53.1" cy="282.8" r="1.75" fill="#000"/>
<circle cx="56.8" cy="283.6" r="1.75" fill="#000"/>
<circle cx="59.9" cy="289.7" r="1.75" fill="#000"/>
<circle cx="62.4" cy="298.3" r="1.75" fill="#000"/>
<circle cx="64.5" cy="307.8" r="1.75" fill="#000"/>
<circle cx="66.6" cy="317.1" r="1.75" fill="#000"/>
<circle cx="69.2" cy="325.3" r="1.75" fill="#000"/>
<circle cx="72.9" cy="327.3" r="1.75" fill="#000"/>
<circle cx="76.7" cy="325.8" r="1.75" fill="#000"/>
<circle cx="79.9" cy="331.6" r="1.75" fill="#000"/>
<circle cx="82.9" cy="338.7" r="1.75" fill="#000"/>
<circle cx="84.4" cy="348.9" r="1.75" fill="#000"/>
<circle cx="85.3" cy="359.7" r="1.75" fill="#000"/>
<circle cx="86.3" cy="370.4" r="1.75" fill="#000"/>
<circle cx="87.5" cy="381.1" r="1.75" fill="#000"/>
<circle cx="88.6" cy="391.7" r="1.75" fill="#000"/>
<circle cx="89.8" cy="402.3" r="1.75" fill="#000"/>
<circle cx="93.2" cy="406.6" r="1.75" fill="#000"/>
<circle cx="97.0" cy="408.5" r="1.75" fill="#000"/>
<circle cx="100.9" cy="410.2" r="1.75" fill="#000"/>
<circle cx="104.7" cy="411.6" r="1.75" fill="#000"/>
<circle cx="108.6" cy="411.6" r="1.75" fill="#000"/>
<circle cx="112.5" cy="411.7" r="1.75" fill="#000"/>
<circle cx="116.4" cy="411.9" r="1.75" fill="#000"/>
<circle cx="120.3" cy="412.3" r="1.75" fill="#000"/>
<circle cx="124.2" cy="412.8" r="1.75" fill="#000"/>
<circle cx="128.1" cy="413.0" r="1.75" fill="#000"/>
<circle cx="132.0" cy="413.0" r="1.75" fill="#000"/>
<circle cx="135.9" cy="413.0" r="1.75" fill="#000"/>
<circle cx="139.8" cy="413.0" r="1.75" fill="#000"/>
<circle cx="143.7" cy="413.0" r="1.75" fill="#000"/>
<circle cx="147.6" cy="412.8" r="1.75" fill="#000"/>
<circle cx="151.5" cy="412.4" r="1.75" fill="#000"/>
<circle cx="155.4" cy="412.1" r="1.75" fill="#000"/>
<circle cx="159.3" cy="411.2" r="1.75" fill="#000"/>
<circle cx="163.1" cy="409.4" r="1.75" fill="#000"/>
<circle cx="166.9" cy="406.8" r="1.75" fill="#000"/>
<circle cx="170.6" cy="403.4" r="1.75" fill="#000"/>
<circle cx="174.3" cy="399.7" r="1.75" fill="#000"/>
<circle cx="177.9" cy="395.4" r="1.75" fill="#000"/>
<circle cx="181.2" cy="389.4" r="1.75" fill="#000"/>
<circle cx="183.1" cy="380.0" r="1.75" fill="#000"/>
<circle cx="184.1" cy="369.3" r="1.75" fill="#000"/>
<circle cx="185.1" cy="358.5" r="1.75" fill="#000"/>
<circle cx="186.3" cy="347.8" r="1.75" fill="#000"/>
<circle cx="187.6" cy="337.4" r="1.75" fill="#000"/>
<circle cx="188.6" cy="326.6" r="1.75" fill="#000"/>
<circle cx="189.5" cy="315.7" r="1.75" fill="#000"/>
<circle cx="190.6" cy="305.1" r="1.75" fill="#000"/>
<circle cx="192.2" cy="295.0" r="1.75" fill="#000"/>
<circle cx="194.4" cy="285.8" r="1.75" fill="#000"/>
<circle cx="197.2" cy="278.0" r="1.75" fill="#000"/>
<circle cx="200.1" cy="270.7" r="1.75" fill="#000"/>
<line x1="90.7" y1="289" x2="104.6" y2="289" stroke="#000" stroke-width="1.3" />
<circle cx="97.6" cy="289.0" r="1.75" fill="#000"/>
<text class="s" x="106.0" y="292.1" font-size="8.6" fill="#222" stroke="#222" stroke-width="0.22" textLength="9.6" lengthAdjust="spacingAndGlyphs">0 s</text>
<line x1="90.7" y1="301.2" x2="104.6" y2="301.2" stroke="#555" stroke-width="0.8" />
<circle cx="97.6" cy="301.2" r="1.50" fill="#fff" stroke="#1a1a1a" stroke-width="0.75"/>
<text class="s" x="106.0" y="304.3" font-size="8.6" fill="#222" stroke="#222" stroke-width="0.22" textLength="18.8" lengthAdjust="spacingAndGlyphs">120 s</text>
<line x1="90.7" y1="313.4" x2="104.6" y2="313.4" stroke="#000" stroke-width="1.3" />
<path d="M95.6,312.0 L99.6,312.0 L97.6,315.3 Z" fill="#000"/>
<text class="s" x="106.0" y="316.5" font-size="8.6" fill="#222" stroke="#222" stroke-width="0.22" textLength="18.8" lengthAdjust="spacingAndGlyphs">240 s</text>
<line x1="90.7" y1="325.6" x2="104.6" y2="325.6" stroke="#555" stroke-width="0.8" />
<path d="M97.6,323.7 L99.3,325.6 L97.6,327.5 L95.9,325.6 Z" fill="#fff" stroke="#1a1a1a" stroke-width="0.75"/>
<text class="s" x="106.0" y="328.70000000000005" font-size="8.6" fill="#222" stroke="#222" stroke-width="0.22" textLength="18.8" lengthAdjust="spacingAndGlyphs">480 s</text>
<line x1="90.7" y1="337.9" x2="104.6" y2="337.9" stroke="#000" stroke-width="1.3" />
<path d="M97.6,335.8 L99.4,337.9 L97.6,340.0 L95.8,337.9 Z" fill="#000"/>
<text class="s" x="106.0" y="341.0" font-size="8.6" fill="#222" stroke="#222" stroke-width="0.22" textLength="18.8" lengthAdjust="spacingAndGlyphs">960 s</text>
<line x1="90.7" y1="350.3" x2="104.6" y2="350.3" stroke="#555" stroke-width="0.8" />
<circle cx="97.6" cy="350.3" r="1.50" fill="#fff" stroke="#1a1a1a" stroke-width="0.75"/>
<text class="s" x="106.0" y="353.40000000000003" font-size="8.6" fill="#222" stroke="#222" stroke-width="0.22" textLength="23.6" lengthAdjust="spacingAndGlyphs">1920 s</text>
<text class="s" x="278.4" y="266.6" font-size="16.2" fill="#000" stroke="#000" stroke-width="0.22">d)</text>
<rect x="367.8" y="254" width="2.6" height="163.6" fill="#c3cdeb"/>
<path d="M439.6,417.6 C440.0,415.0 441.2,406.8 442.0,402.0 C442.8,397.2 443.6,393.8 444.4,389.0 C445.2,384.2 446.0,378.6 447.0,373.0 C448.0,367.4 449.3,360.7 450.3,355.5 C451.3,350.3 452.2,345.6 453.0,342.0 C453.8,338.4 454.2,336.8 455.0,334.0 C455.8,331.2 457.0,327.4 458.0,325.0 C459.0,322.6 460.1,320.4 461.0,319.6 C461.9,318.9 462.7,319.9 463.5,320.5 C464.3,321.1 465.1,321.6 466.0,323.0 C466.9,324.4 468.0,326.8 469.0,329.0 C470.0,331.2 471.1,333.2 472.0,336.0 C472.9,338.8 473.7,342.3 474.5,346.0 C475.3,349.7 475.9,353.8 476.7,358.0 C477.4,362.2 478.2,366.2 479.0,371.0 C479.8,375.8 480.7,381.6 481.4,386.6 C482.1,391.6 482.7,395.8 483.3,401.0 C483.9,406.2 484.7,414.8 485.0,417.6" fill="#dfe6f7" stroke="none" stroke-width="0" stroke-linejoin="round" stroke-linecap="round" />
<line x1="461" y1="254" x2="461" y2="417.6" stroke="#a9b4da" stroke-width="1.6" />
<line x1="484.3" y1="314" x2="484.3" y2="417.6" stroke="#b0b0b0" stroke-width="0.9" />
<line x1="312.4" y1="254" x2="503" y2="254" stroke="#c4c4c4" stroke-width="1.0" />
<line x1="312.4" y1="417.6" x2="503" y2="417.6" stroke="#9a9a9a" stroke-width="1.0" />
<line x1="312.4" y1="254" x2="312.4" y2="417.6" stroke="#c8c8c8" stroke-width="0.8" stroke-dasharray="1.2,2.4"/>
<line x1="503" y1="254" x2="503" y2="417.6" stroke="#c8c8c8" stroke-width="0.8" stroke-dasharray="1.2,2.4"/>
<line x1="511.6" y1="256" x2="511.6" y2="417.6" stroke="#c8c8c8" stroke-width="0.8" stroke-dasharray="1.2,2.4"/>
<line x1="511.6" y1="275" x2="511.6" y2="278" stroke="#4a5fb0" stroke-width="1.0" />
<line x1="511.6" y1="286" x2="511.6" y2="288.5" stroke="#4a5fb0" stroke-width="1.0" />
<line x1="312.4" y1="254" x2="314.4" y2="254" stroke="#aaa" stroke-width="0.7" />
<line x1="312.4" y1="308.5" x2="314.4" y2="308.5" stroke="#aaa" stroke-width="0.7" />
<line x1="312.4" y1="363" x2="314.4" y2="363" stroke="#aaa" stroke-width="0.7" />
<line x1="312.4" y1="417.5" x2="314.4" y2="417.5" stroke="#aaa" stroke-width="0.7" />
<line x1="335.5" y1="417.6" x2="335.5" y2="416" stroke="#bbb" stroke-width="0.7" />
<line x1="335.5" y1="254" x2="335.5" y2="255.6" stroke="#ccc" stroke-width="0.7" />
<line x1="363.5" y1="417.6" x2="363.5" y2="416" stroke="#bbb" stroke-width="0.7" />
<line x1="363.5" y1="254" x2="363.5" y2="255.6" stroke="#ccc" stroke-width="0.7" />
<line x1="391.5" y1="417.6" x2="391.5" y2="416" stroke="#bbb" stroke-width="0.7" />
<line x1="391.5" y1="254" x2="391.5" y2="255.6" stroke="#ccc" stroke-width="0.7" />
<line x1="419.5" y1="417.6" x2="419.5" y2="416" stroke="#bbb" stroke-width="0.7" />
<line x1="419.5" y1="254" x2="419.5" y2="255.6" stroke="#ccc" stroke-width="0.7" />
<line x1="447.5" y1="417.6" x2="447.5" y2="416" stroke="#bbb" stroke-width="0.7" />
<line x1="447.5" y1="254" x2="447.5" y2="255.6" stroke="#ccc" stroke-width="0.7" />
<line x1="475.5" y1="417.6" x2="475.5" y2="416" stroke="#bbb" stroke-width="0.7" />
<line x1="475.5" y1="254" x2="475.5" y2="255.6" stroke="#ccc" stroke-width="0.7" />
<text class="s" x="300.6" y="257.6" font-size="10.0" fill="#333" stroke="#333" stroke-width="0.1" textLength="5.6" lengthAdjust="spacingAndGlyphs">10</text>
<text class="s" x="306.3" y="253.0" font-size="5.0" fill="#444" stroke="#444" stroke-width="0.05" textLength="3.6" lengthAdjust="spacingAndGlyphs">-3</text>
<text class="s" x="300.6" y="312.1" font-size="10.0" fill="#333" stroke="#333" stroke-width="0.1" textLength="5.6" lengthAdjust="spacingAndGlyphs">10</text>
<text class="s" x="306.3" y="307.5" font-size="5.0" fill="#444" stroke="#444" stroke-width="0.05" textLength="3.6" lengthAdjust="spacingAndGlyphs">-4</text>
<text class="s" x="300.6" y="366.6" font-size="10.0" fill="#333" stroke="#333" stroke-width="0.1" textLength="5.6" lengthAdjust="spacingAndGlyphs">10</text>
<text class="s" x="306.3" y="362.0" font-size="5.0" fill="#444" stroke="#444" stroke-width="0.05" textLength="3.6" lengthAdjust="spacingAndGlyphs">-5</text>
<text class="s" x="300.6" y="421.1" font-size="10.0" fill="#333" stroke="#333" stroke-width="0.1" textLength="5.6" lengthAdjust="spacingAndGlyphs">10</text>
<text class="s" x="306.3" y="416.5" font-size="5.0" fill="#444" stroke="#444" stroke-width="0.05" textLength="3.6" lengthAdjust="spacingAndGlyphs">-6</text>
<text class="s" x="335.4" y="430.6" font-size="9.8" fill="#222" stroke="#222" stroke-width="0.22" text-anchor="middle" textLength="10.2" lengthAdjust="spacingAndGlyphs">-5.0</text>
<text class="s" x="391.4" y="430.6" font-size="9.8" fill="#222" stroke="#222" stroke-width="0.22" text-anchor="middle" textLength="10.2" lengthAdjust="spacingAndGlyphs">-4.5</text>
<text class="s" x="447.4" y="430.6" font-size="9.8" fill="#222" stroke="#222" stroke-width="0.22" text-anchor="middle" textLength="10.2" lengthAdjust="spacingAndGlyphs">-4.0</text>
<text class="s" x="503.4" y="430.6" font-size="9.8" fill="#222" stroke="#222" stroke-width="0.22" text-anchor="middle" textLength="10.2" lengthAdjust="spacingAndGlyphs">-3.5</text>
<text class="s" x="514.2" y="430.2" font-size="9.2" fill="#333" stroke="#333" stroke-width="0.22" text-anchor="middle" textLength="7.6" lengthAdjust="spacingAndGlyphs">3.5</text>
<line x1="510" y1="422.6" x2="515" y2="422.6" stroke="#999" stroke-width="0.6" />
<text class="s" x="392.4" y="451.0" font-size="10.2" fill="#222" stroke="#222" stroke-width="0.22" textLength="31.4" lengthAdjust="spacingAndGlyphs">E vs vac [eV]</text>
<text class="r" x="292.4" y="359.0" font-size="12.2" fill="#1a1a1a" stroke="#1a1a1a" stroke-width="0.1" textLength="28.8" lengthAdjust="spacingAndGlyphs" font-weight="bold" transform="rotate(-90 292.4 359.0)">1/Rct</text>
<text class="s" x="366.4" y="329.6" font-size="5.8" fill="#222" stroke="#222" stroke-width="0.08" textLength="68.6" lengthAdjust="spacingAndGlyphs" transform="rotate(-90 366.4 329.6)">VB PbS/Bi:EDT</text>
<text class="s" x="376.4" y="324.3" font-size="5.8" fill="#222" stroke="#222" stroke-width="0.08" textLength="56" lengthAdjust="spacingAndGlyphs" transform="rotate(-90 376.4 324.3)">VB PbS:EDT</text>
<text class="s" x="484.0" y="310.4" font-size="6.9" fill="#222" stroke="#222" stroke-width="0.2" textLength="54" lengthAdjust="spacingAndGlyphs" transform="rotate(-90 484.0 310.4)">CB PbS:EDT</text>
<text class="s" x="420.6" y="304.0" font-size="10.2" fill="#222" stroke="#222" stroke-width="0.22" textLength="38.6" lengthAdjust="spacingAndGlyphs">Dopand manifold</text>
<text class="s" x="420.6" y="317.4" font-size="10.2" fill="#222" stroke="#222" stroke-width="0.22" textLength="23.4" lengthAdjust="spacingAndGlyphs">PbS/Bi:EDT</text>
<path d="M312.4,289.0 C312.8,290.8 314.1,295.8 315.0,299.5 C315.9,303.2 316.9,308.4 317.8,311.3 C318.7,314.2 319.4,315.7 320.4,317.2 C321.4,318.7 322.4,319.5 323.6,320.4 C324.8,321.3 326.4,321.9 327.6,322.6 C328.8,323.3 329.8,323.9 331.0,324.6 C332.2,325.3 333.4,326.0 335.0,326.9 C336.6,327.8 338.6,328.8 340.6,329.9 C342.6,331.0 345.4,332.8 347.0,333.6 C348.6,334.5 348.7,334.4 350.0,335.0 C351.3,335.6 353.3,336.4 355.0,337.0 C356.7,337.6 358.5,338.3 360.0,338.8 C361.5,339.3 362.7,339.7 364.0,340.2 C365.3,340.7 366.8,341.2 368.0,341.8 C369.2,342.4 370.0,343.0 371.0,343.6 C372.0,344.2 372.8,344.6 374.0,345.5 C375.2,346.4 376.8,347.6 378.0,349.0 C379.2,350.4 380.2,352.3 381.0,354.0 C381.8,355.7 382.2,356.8 383.0,359.0 C383.8,361.2 385.2,364.3 386.0,367.0 C386.8,369.7 387.3,372.0 388.0,375.0 C388.7,378.0 389.4,382.0 390.0,385.0 C390.6,388.0 391.0,389.7 391.5,393.0 C392.0,396.3 392.6,400.9 393.0,405.0 C393.4,409.1 394.0,415.5 394.2,417.6" fill="none" stroke="#8a8a8a" stroke-width="1.3" stroke-linejoin="round" stroke-linecap="round" />
<path d="M312.4,288.5 C312.8,289.9 313.8,294.3 314.5,297.0 C315.2,299.7 315.9,302.5 316.5,304.8 C317.1,307.1 317.6,309.0 318.4,310.6 C319.1,312.2 319.9,313.2 321.0,314.5 C322.1,315.8 323.7,317.3 325.0,318.5 C326.3,319.7 327.4,320.6 328.9,321.7 C330.4,322.8 332.1,323.8 334.0,325.0 C335.9,326.2 338.4,327.6 340.6,328.9 C342.8,330.2 345.4,331.9 347.0,332.8 C348.6,333.7 348.7,333.6 350.0,334.2 C351.3,334.8 353.7,335.7 355.0,336.2 C356.3,336.7 356.8,337.0 358.0,337.4 C359.2,337.8 360.5,338.2 362.0,338.8 C363.5,339.4 365.5,340.1 367.0,340.8 C368.5,341.5 369.8,342.2 371.0,342.8 C372.2,343.4 372.8,343.6 374.0,344.5 C375.2,345.4 376.8,346.6 378.0,348.0 C379.2,349.4 380.2,351.3 381.0,353.0 C381.8,354.7 382.2,355.8 383.0,358.0 C383.8,360.2 385.2,363.3 386.0,366.0 C386.8,368.7 387.3,371.0 388.0,374.0 C388.7,377.0 389.4,381.0 390.0,384.0 C390.6,387.0 391.0,388.7 391.5,392.0 C392.0,395.3 392.6,399.7 393.0,404.0 C393.4,408.3 394.0,415.3 394.2,417.6" fill="none" stroke="#2d3f94" stroke-width="1.9" stroke-linejoin="round" stroke-linecap="round" />
<path d="M439.6,417.6 C440.0,415.0 441.2,406.8 442.0,402.0 C442.8,397.2 443.6,393.8 444.4,389.0 C445.2,384.2 446.0,378.6 447.0,373.0 C448.0,367.4 449.3,360.7 450.3,355.5 C451.3,350.3 452.2,345.6 453.0,342.0 C453.8,338.4 454.2,336.8 455.0,334.0 C455.8,331.2 457.0,327.4 458.0,325.0 C459.0,322.6 460.1,320.4 461.0,319.6 C461.9,318.9 462.7,319.9 463.5,320.5 C464.3,321.1 465.1,321.6 466.0,323.0 C466.9,324.4 468.0,326.8 469.0,329.0 C470.0,331.2 471.1,333.2 472.0,336.0 C472.9,338.8 473.7,342.3 474.5,346.0 C475.3,349.7 475.9,353.8 476.7,358.0 C477.4,362.2 478.2,366.2 479.0,371.0 C479.8,375.8 480.7,381.6 481.4,386.6 C482.1,391.6 482.7,395.8 483.3,401.0 C483.9,406.2 484.7,414.8 485.0,417.6" fill="none" stroke="#2d3f94" stroke-width="1.5" stroke-linejoin="round" stroke-linecap="round" />
<path d="M450.3,417.6 C450.6,416.0 451.4,411.2 452.0,408.0 C452.6,404.8 453.2,401.8 454.0,398.5 C454.8,395.2 455.7,391.2 456.5,388.0 C457.3,384.8 457.9,381.7 458.7,379.4 C459.4,377.1 460.2,375.4 461.0,374.0 C461.8,372.6 462.5,371.3 463.5,371.0 C464.5,370.7 465.8,373.6 467.0,372.2 C468.2,370.8 469.7,366.6 470.7,362.6 C471.7,358.6 472.1,352.8 472.8,348.0 C473.5,343.2 474.2,337.9 474.8,334.0 C475.4,330.1 475.9,327.4 476.7,324.5 C477.5,321.6 478.5,318.4 479.7,316.6 C480.9,314.8 482.3,313.7 483.6,313.7 C484.9,313.7 486.2,315.3 487.5,316.6 C488.8,317.9 490.2,321.0 491.4,321.5 C492.5,322.0 493.6,321.6 494.4,319.6 C495.2,317.7 495.6,315.7 496.3,309.8 C497.0,303.9 497.7,290.3 498.3,284.4 C498.9,278.5 499.6,276.6 500.2,274.6 C500.8,272.6 501.7,272.6 502.2,272.6 C502.7,272.6 503.0,274.3 503.2,274.6" fill="none" stroke="#5d6690" stroke-width="1.4" stroke-linejoin="round" stroke-linecap="round" />
<path d="M437.2,417.6 C437.7,415.5 439.0,409.6 440.0,405.0 C441.0,400.4 442.1,395.5 443.0,390.0 C443.9,384.5 444.7,378.7 445.5,372.0 C446.3,365.3 447.1,355.8 448.0,350.0 C448.9,344.2 450.0,340.5 451.0,337.0 C452.0,333.5 453.0,331.4 454.0,329.0 C455.0,326.6 455.8,324.1 457.0,322.5 C458.2,320.9 459.8,319.7 461.0,319.5 C462.2,319.3 463.3,320.8 464.5,321.5 C465.7,322.2 467.2,323.5 468.3,323.5 C469.4,323.5 470.1,321.5 471.0,321.5 C471.9,321.5 472.9,323.0 474.0,323.5 C475.1,324.0 476.4,324.8 477.7,324.5 C479.0,324.2 480.3,322.3 481.6,321.5 C482.9,320.7 484.2,320.6 485.5,319.6 C486.8,318.6 488.2,317.5 489.5,315.7 C490.8,313.9 492.3,311.4 493.4,308.8 C494.5,306.2 495.5,303.1 496.3,300.0 C497.1,296.9 497.7,292.6 498.3,290.2 C498.9,287.8 499.5,286.4 500.2,285.3 C500.9,284.2 502.2,283.7 502.6,283.4" fill="none" stroke="#2d3f94" stroke-width="1.7" stroke-linejoin="round" stroke-linecap="round" />
<polyline points="404.0,410.0 405.5,412.5 404.8,413.8 406.6,415.5 407.0,418.0" fill="none" stroke="#2d3f94" stroke-width="1.0" stroke-linejoin="round" stroke-linecap="round" />
<line x1="442" y1="323" x2="456.8" y2="339.2" stroke="#111" stroke-width="1.1" />
<path d="M460.2,343.8 L453.9,339.9 L458.4,336.2 Z" fill="#111"/>
<linearGradient id="bg" x1="0" y1="0" x2="0" y2="1"><stop offset="0" stop-color="#f4f4f4"/><stop offset="1" stop-color="#e2e2e2"/></linearGradient>
<rect x="0" y="457.2" width="520" height="2.8" fill="url(#bg)"/>
</svg>
</body></html>
